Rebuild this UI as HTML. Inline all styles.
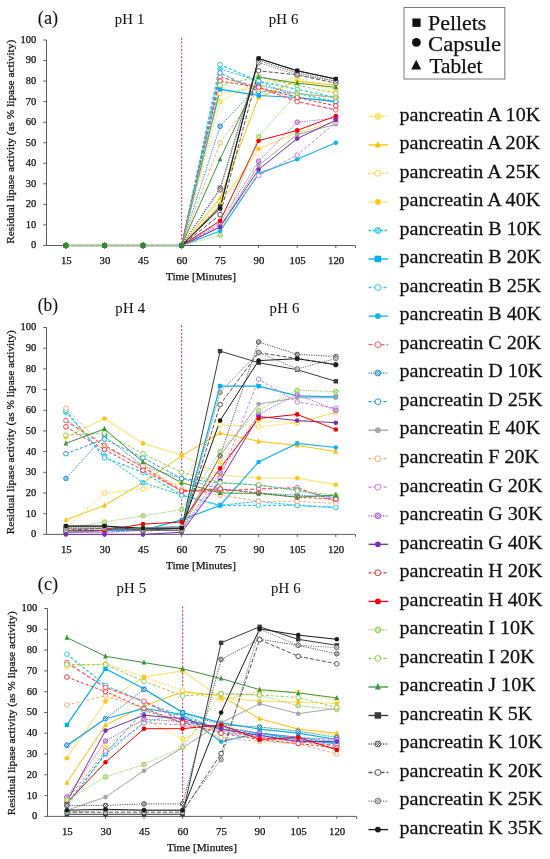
<!DOCTYPE html><html><head><meta charset="utf-8"><style>html,body{margin:0;padding:0;background:#fff;overflow:hidden}svg{display:block;will-change:transform}text{font-family:"Liberation Serif",serif;fill:#111;stroke:#111;stroke-width:0.25px}</style></head><body>
<svg width="550" height="859" viewBox="0 0 550 859">
<defs>
<pattern id="h12C4F2" patternUnits="userSpaceOnUse" width="1.6" height="1.6" patternTransform="rotate(45)"><rect width="1.6" height="1.6" fill="#fff"/><rect width="0.8" height="1.6" fill="#12C4F2"/></pattern>
<pattern id="h1888D8" patternUnits="userSpaceOnUse" width="1.6" height="1.6" patternTransform="rotate(45)"><rect width="1.6" height="1.6" fill="#fff"/><rect width="0.8" height="1.6" fill="#1888D8"/></pattern>
<pattern id="h555555" patternUnits="userSpaceOnUse" width="1.6" height="1.6" patternTransform="rotate(45)"><rect width="1.6" height="1.6" fill="#fff"/><rect width="0.8" height="1.6" fill="#555555"/></pattern>
<pattern id="h777777" patternUnits="userSpaceOnUse" width="1.6" height="1.6" patternTransform="rotate(45)"><rect width="1.6" height="1.6" fill="#fff"/><rect width="0.8" height="1.6" fill="#777777"/></pattern>
<pattern id="h92D050" patternUnits="userSpaceOnUse" width="1.6" height="1.6" patternTransform="rotate(45)"><rect width="1.6" height="1.6" fill="#fff"/><rect width="0.8" height="1.6" fill="#92D050"/></pattern>
<pattern id="hA858D2" patternUnits="userSpaceOnUse" width="1.6" height="1.6" patternTransform="rotate(45)"><rect width="1.6" height="1.6" fill="#fff"/><rect width="0.8" height="1.6" fill="#A858D2"/></pattern>
<pattern id="hFFD91A" patternUnits="userSpaceOnUse" width="1.6" height="1.6" patternTransform="rotate(45)"><rect width="1.6" height="1.6" fill="#fff"/><rect width="0.8" height="1.6" fill="#FFD91A"/></pattern>
</defs>
<rect width="550" height="859" fill="#fff"/>
<text transform="translate(14.2 141.8) rotate(-90)" font-size="11" text-anchor="middle" textLength="204" lengthAdjust="spacingAndGlyphs">Residual lipase activity (as % lipase activity)</text>
<text x="37.8" y="23.5" font-size="19" textLength="20.3" lengthAdjust="spacingAndGlyphs" style="stroke-width:0.1px">(a)</text>
<text transform="translate(114.7 23.8) scale(1.07 1)" font-size="13.8" letter-spacing="0.2" style="stroke-width:0.05px">pH 1</text>
<text transform="translate(268.7 23.8) scale(1.07 1)" font-size="13.8" letter-spacing="0.2" style="stroke-width:0.05px">pH 6</text>
<g transform="translate(0.0 0)">
<path d="M46.5 40.0V245.5M43.3 245.5H355.5" stroke="#5e5e5e" stroke-width="1" fill="none"/>
<path d="M43.3 224.9H46.5M43.3 204.4H46.5M43.3 183.8H46.5M43.3 163.3H46.5M43.3 142.8H46.5M43.3 122.2H46.5M43.3 101.6H46.5M43.3 81.1H46.5M43.3 60.5H46.5M43.3 40.0H46.5M104.5 245.5v2.5M143.0 245.5v2.5M181.6 245.5v2.5M220.1 245.5v2.5M258.6 245.5v2.5M297.2 245.5v2.5M335.8 245.5v2.5M355.5 245.5v2.5" stroke="#5e5e5e" stroke-width="1" fill="none"/>
<text x="36.2" y="248.4" font-size="10.5" text-anchor="end">0</text>
<text x="36.2" y="227.8" font-size="10.5" text-anchor="end">10</text>
<text x="36.2" y="207.3" font-size="10.5" text-anchor="end">20</text>
<text x="36.2" y="186.8" font-size="10.5" text-anchor="end">30</text>
<text x="36.2" y="166.2" font-size="10.5" text-anchor="end">40</text>
<text x="36.2" y="145.7" font-size="10.5" text-anchor="end">50</text>
<text x="36.2" y="125.1" font-size="10.5" text-anchor="end">60</text>
<text x="36.2" y="104.5" font-size="10.5" text-anchor="end">70</text>
<text x="36.2" y="84.0" font-size="10.5" text-anchor="end">80</text>
<text x="36.2" y="63.4" font-size="10.5" text-anchor="end">90</text>
<text x="36.2" y="42.9" font-size="10.5" text-anchor="end">100</text>
<text x="66.3" y="264.1" font-size="10.8" text-anchor="middle">15</text>
<text x="104.9" y="264.1" font-size="10.8" text-anchor="middle">30</text>
<text x="143.4" y="264.1" font-size="10.8" text-anchor="middle">45</text>
<text x="182.0" y="264.1" font-size="10.8" text-anchor="middle">60</text>
<text x="220.5" y="264.1" font-size="10.8" text-anchor="middle">75</text>
<text x="259.0" y="264.1" font-size="10.8" text-anchor="middle">90</text>
<text x="297.6" y="264.1" font-size="10.8" text-anchor="middle">105</text>
<text x="336.1" y="264.1" font-size="10.8" text-anchor="middle">120</text>
<text x="201" y="279.8" font-size="11" text-anchor="middle" textLength="69.8" lengthAdjust="spacingAndGlyphs">Time [Minutes]</text>
<path d="M181.6 37.8V245.5" stroke="#E8365E" stroke-width="1.1" stroke-dasharray="2 1.7" fill="none"/>
<polyline points="65.9,245.5 104.5,245.5 143.0,245.5 181.6,245.5 220.1,101.6 258.6,81.1 297.2,81.1 335.8,89.3" fill="none" stroke="#FFD91A" stroke-width="1.0" stroke-dasharray="1.2 1.2"/>
<polyline points="65.9,245.5 104.5,245.5 143.0,245.5 181.6,245.5 220.1,198.2 258.6,97.5 297.2,81.1 335.8,85.2" fill="none" stroke="#FFC000" stroke-width="1.0"/>
<polyline points="65.9,245.5 104.5,245.5 143.0,245.5 181.6,245.5 220.1,93.4 258.6,87.3 297.2,77.0 335.8,93.4" fill="none" stroke="#FFD43B" stroke-width="1.0" stroke-dasharray="2 1.5"/>
<polyline points="65.9,245.5 104.5,245.5 143.0,245.5 181.6,245.5 220.1,204.4 258.6,148.9 297.2,132.5 335.8,122.2" fill="none" stroke="#FFE27A" stroke-width="1.2"/>
<polyline points="65.9,245.5 104.5,245.5 143.0,245.5 181.6,245.5 220.1,68.8 258.6,81.1 297.2,97.5 335.8,101.6" fill="none" stroke="#12C4F2" stroke-width="1.0" stroke-dasharray="2.5 1.5"/>
<polyline points="65.9,245.5 104.5,245.5 143.0,245.5 181.6,245.5 220.1,89.3 258.6,95.5 297.2,97.5 335.8,101.6" fill="none" stroke="#00B0F0" stroke-width="1.2"/>
<polyline points="65.9,245.5 104.5,245.5 143.0,245.5 181.6,245.5 220.1,64.7 258.6,81.1 297.2,89.3 335.8,97.5" fill="none" stroke="#2ECBF0" stroke-width="1.3" stroke-dasharray="3 2"/>
<polyline points="65.9,245.5 104.5,245.5 143.0,245.5 181.6,245.5 220.1,231.1 258.6,173.6 297.2,159.2 335.8,142.8" fill="none" stroke="#12B4F0" stroke-width="1.2"/>
<polyline points="65.9,245.5 104.5,245.5 143.0,245.5 181.6,245.5 220.1,77.0 258.6,87.3 297.2,101.6 335.8,109.9" fill="none" stroke="#FF5A66" stroke-width="1.3" stroke-dasharray="4 2"/>
<polyline points="65.9,245.5 104.5,245.5 143.0,245.5 181.6,245.5 220.1,126.3 258.6,85.2 297.2,93.4 335.8,97.5" fill="none" stroke="#1888D8" stroke-width="1.0" stroke-dasharray="1.2 1.2"/>
<polyline points="65.9,245.5 104.5,245.5 143.0,245.5 181.6,245.5 220.1,72.9 258.6,91.4 297.2,93.4 335.8,101.6" fill="none" stroke="#1E9EE0" stroke-width="1.0" stroke-dasharray="3 2"/>
<polyline points="65.9,245.5 104.5,245.5 143.0,245.5 181.6,245.5 220.1,227.0 258.6,165.4 297.2,134.5 335.8,124.3" fill="none" stroke="#A6A6A6" stroke-width="1.0"/>
<polyline points="65.9,245.5 104.5,245.5 143.0,245.5 181.6,245.5 220.1,142.8 258.6,89.3 297.2,93.4 335.8,97.5" fill="none" stroke="#F5AE72" stroke-width="1.0" stroke-dasharray="3 2"/>
<polyline points="65.9,245.5 104.5,245.5 143.0,245.5 181.6,245.5 220.1,224.9 258.6,175.6 297.2,155.1 335.8,122.2" fill="none" stroke="#C583E6" stroke-width="1.0" stroke-dasharray="3 2"/>
<polyline points="65.9,245.5 104.5,245.5 143.0,245.5 181.6,245.5 220.1,222.9 258.6,161.2 297.2,122.2 335.8,118.1" fill="none" stroke="#A858D2" stroke-width="1.0" stroke-dasharray="1.2 1.2"/>
<polyline points="65.9,245.5 104.5,245.5 143.0,245.5 181.6,245.5 220.1,227.0 258.6,169.5 297.2,138.6 335.8,120.1" fill="none" stroke="#7A2FB0" stroke-width="1.0"/>
<polyline points="65.9,245.5 104.5,245.5 143.0,245.5 181.6,245.5 220.1,81.1 258.6,87.3 297.2,97.5 335.8,105.8" fill="none" stroke="#FF3030" stroke-width="1.0" stroke-dasharray="3 2"/>
<polyline points="65.9,245.5 104.5,245.5 143.0,245.5 181.6,245.5 220.1,220.8 258.6,140.7 297.2,130.4 335.8,116.0" fill="none" stroke="#F00000" stroke-width="1.0"/>
<polyline points="65.9,245.5 104.5,245.5 143.0,245.5 181.6,245.5 220.1,235.2 258.6,136.6 297.2,93.4 335.8,97.5" fill="none" stroke="#92D050" stroke-width="1.0" stroke-dasharray="1.2 1.2"/>
<polyline points="65.9,245.5 104.5,245.5 143.0,245.5 181.6,245.5 220.1,85.2 258.6,77.0 297.2,85.2 335.8,93.4" fill="none" stroke="#92D050" stroke-width="1.0" stroke-dasharray="3 2"/>
<polyline points="65.9,245.5 104.5,245.5 143.0,245.5 181.6,245.5 220.1,159.2 258.6,77.0 297.2,83.2 335.8,87.3" fill="none" stroke="#38963A" stroke-width="1.0"/>
<polyline points="65.9,245.5 104.5,245.5 143.0,245.5 181.6,245.5 220.1,206.5 258.6,58.5 297.2,70.8 335.8,79.0" fill="none" stroke="#3A3A3A" stroke-width="1.0"/>
<polyline points="65.9,245.5 104.5,245.5 143.0,245.5 181.6,245.5 220.1,188.0 258.6,60.5 297.2,72.9 335.8,81.1" fill="none" stroke="#555555" stroke-width="1.0" stroke-dasharray="1.2 1.2"/>
<polyline points="65.9,245.5 104.5,245.5 143.0,245.5 181.6,245.5 220.1,214.7 258.6,70.8 297.2,74.9 335.8,83.2" fill="none" stroke="#555555" stroke-width="1.0" stroke-dasharray="4 2"/>
<polyline points="65.9,245.5 104.5,245.5 143.0,245.5 181.6,245.5 220.1,190.0 258.6,62.6 297.2,74.9 335.8,81.1" fill="none" stroke="#777777" stroke-width="1.0" stroke-dasharray="1.2 1.2"/>
<polyline points="65.9,245.5 104.5,245.5 143.0,245.5 181.6,245.5 220.1,208.5 258.6,58.5 297.2,70.8 335.8,79.0" fill="none" stroke="#1A1A1A" stroke-width="1.0"/>
<circle cx="65.9" cy="245.5" r="2.3" fill="url(#hFFD91A)" stroke="#FFD91A" stroke-width="0.9"/><circle cx="104.5" cy="245.5" r="2.3" fill="url(#hFFD91A)" stroke="#FFD91A" stroke-width="0.9"/><circle cx="143.0" cy="245.5" r="2.3" fill="url(#hFFD91A)" stroke="#FFD91A" stroke-width="0.9"/><circle cx="181.6" cy="245.5" r="2.3" fill="url(#hFFD91A)" stroke="#FFD91A" stroke-width="0.9"/><circle cx="220.1" cy="101.6" r="2.3" fill="url(#hFFD91A)" stroke="#FFD91A" stroke-width="0.9"/><circle cx="258.6" cy="81.1" r="2.3" fill="url(#hFFD91A)" stroke="#FFD91A" stroke-width="0.9"/><circle cx="297.2" cy="81.1" r="2.3" fill="url(#hFFD91A)" stroke="#FFD91A" stroke-width="0.9"/><circle cx="335.8" cy="89.3" r="2.3" fill="url(#hFFD91A)" stroke="#FFD91A" stroke-width="0.9"/>
<path d="M65.9 242.5L68.2 247.6L63.6 247.6Z" fill="#FFC000"/><path d="M104.5 242.5L106.8 247.6L102.1 247.6Z" fill="#FFC000"/><path d="M143.0 242.5L145.3 247.6L140.7 247.6Z" fill="#FFC000"/><path d="M181.6 242.5L183.9 247.6L179.2 247.6Z" fill="#FFC000"/><path d="M220.1 195.2L222.4 200.3L217.8 200.3Z" fill="#FFC000"/><path d="M258.6 94.5L261.0 99.6L256.3 99.6Z" fill="#FFC000"/><path d="M297.2 78.1L299.5 83.2L294.9 83.2Z" fill="#FFC000"/><path d="M335.8 82.2L338.1 87.3L333.4 87.3Z" fill="#FFC000"/>
<circle cx="65.9" cy="245.5" r="2.3" fill="#fff" stroke="#FFD43B" stroke-width="1"/><circle cx="104.5" cy="245.5" r="2.3" fill="#fff" stroke="#FFD43B" stroke-width="1"/><circle cx="143.0" cy="245.5" r="2.3" fill="#fff" stroke="#FFD43B" stroke-width="1"/><circle cx="181.6" cy="245.5" r="2.3" fill="#fff" stroke="#FFD43B" stroke-width="1"/><circle cx="220.1" cy="93.4" r="2.3" fill="#fff" stroke="#FFD43B" stroke-width="1"/><circle cx="258.6" cy="87.3" r="2.3" fill="#fff" stroke="#FFD43B" stroke-width="1"/><circle cx="297.2" cy="77.0" r="2.3" fill="#fff" stroke="#FFD43B" stroke-width="1"/><circle cx="335.8" cy="93.4" r="2.3" fill="#fff" stroke="#FFD43B" stroke-width="1"/>
<circle cx="65.9" cy="245.5" r="2.3" fill="#FFC61A"/><circle cx="104.5" cy="245.5" r="2.3" fill="#FFC61A"/><circle cx="143.0" cy="245.5" r="2.3" fill="#FFC61A"/><circle cx="181.6" cy="245.5" r="2.3" fill="#FFC61A"/><circle cx="220.1" cy="204.4" r="2.3" fill="#FFC61A"/><circle cx="258.6" cy="148.9" r="2.3" fill="#FFC61A"/><circle cx="297.2" cy="132.5" r="2.3" fill="#FFC61A"/><circle cx="335.8" cy="122.2" r="2.3" fill="#FFC61A"/>
<circle cx="65.9" cy="245.5" r="2.3" fill="url(#h12C4F2)" stroke="#12C4F2" stroke-width="0.9"/><circle cx="104.5" cy="245.5" r="2.3" fill="url(#h12C4F2)" stroke="#12C4F2" stroke-width="0.9"/><circle cx="143.0" cy="245.5" r="2.3" fill="url(#h12C4F2)" stroke="#12C4F2" stroke-width="0.9"/><circle cx="181.6" cy="245.5" r="2.3" fill="url(#h12C4F2)" stroke="#12C4F2" stroke-width="0.9"/><circle cx="220.1" cy="68.8" r="2.3" fill="url(#h12C4F2)" stroke="#12C4F2" stroke-width="0.9"/><circle cx="258.6" cy="81.1" r="2.3" fill="url(#h12C4F2)" stroke="#12C4F2" stroke-width="0.9"/><circle cx="297.2" cy="97.5" r="2.3" fill="url(#h12C4F2)" stroke="#12C4F2" stroke-width="0.9"/><circle cx="335.8" cy="101.6" r="2.3" fill="url(#h12C4F2)" stroke="#12C4F2" stroke-width="0.9"/>
<rect x="63.7" y="243.3" width="4.4" height="4.4" fill="#00B0F0"/><rect x="102.3" y="243.3" width="4.4" height="4.4" fill="#00B0F0"/><rect x="140.8" y="243.3" width="4.4" height="4.4" fill="#00B0F0"/><rect x="179.4" y="243.3" width="4.4" height="4.4" fill="#00B0F0"/><rect x="217.9" y="87.1" width="4.4" height="4.4" fill="#00B0F0"/><rect x="256.5" y="93.3" width="4.4" height="4.4" fill="#00B0F0"/><rect x="295.0" y="95.4" width="4.4" height="4.4" fill="#00B0F0"/><rect x="333.6" y="99.5" width="4.4" height="4.4" fill="#00B0F0"/>
<circle cx="65.9" cy="245.5" r="2.3" fill="#fff" stroke="#2ECBF0" stroke-width="1"/><circle cx="104.5" cy="245.5" r="2.3" fill="#fff" stroke="#2ECBF0" stroke-width="1"/><circle cx="143.0" cy="245.5" r="2.3" fill="#fff" stroke="#2ECBF0" stroke-width="1"/><circle cx="181.6" cy="245.5" r="2.3" fill="#fff" stroke="#2ECBF0" stroke-width="1"/><circle cx="220.1" cy="64.7" r="2.3" fill="#fff" stroke="#2ECBF0" stroke-width="1"/><circle cx="258.6" cy="81.1" r="2.3" fill="#fff" stroke="#2ECBF0" stroke-width="1"/><circle cx="297.2" cy="89.3" r="2.3" fill="#fff" stroke="#2ECBF0" stroke-width="1"/><circle cx="335.8" cy="97.5" r="2.3" fill="#fff" stroke="#2ECBF0" stroke-width="1"/>
<circle cx="65.9" cy="245.5" r="2.3" fill="#12B4F0"/><circle cx="104.5" cy="245.5" r="2.3" fill="#12B4F0"/><circle cx="143.0" cy="245.5" r="2.3" fill="#12B4F0"/><circle cx="181.6" cy="245.5" r="2.3" fill="#12B4F0"/><circle cx="220.1" cy="231.1" r="2.3" fill="#12B4F0"/><circle cx="258.6" cy="173.6" r="2.3" fill="#12B4F0"/><circle cx="297.2" cy="159.2" r="2.3" fill="#12B4F0"/><circle cx="335.8" cy="142.8" r="2.3" fill="#12B4F0"/>
<circle cx="65.9" cy="245.5" r="2.3" fill="#fff" stroke="#FF5A66" stroke-width="1"/><circle cx="104.5" cy="245.5" r="2.3" fill="#fff" stroke="#FF5A66" stroke-width="1"/><circle cx="143.0" cy="245.5" r="2.3" fill="#fff" stroke="#FF5A66" stroke-width="1"/><circle cx="181.6" cy="245.5" r="2.3" fill="#fff" stroke="#FF5A66" stroke-width="1"/><circle cx="220.1" cy="77.0" r="2.3" fill="#fff" stroke="#FF5A66" stroke-width="1"/><circle cx="258.6" cy="87.3" r="2.3" fill="#fff" stroke="#FF5A66" stroke-width="1"/><circle cx="297.2" cy="101.6" r="2.3" fill="#fff" stroke="#FF5A66" stroke-width="1"/><circle cx="335.8" cy="109.9" r="2.3" fill="#fff" stroke="#FF5A66" stroke-width="1"/>
<circle cx="65.9" cy="245.5" r="2.3" fill="url(#h1888D8)" stroke="#1888D8" stroke-width="0.9"/><circle cx="104.5" cy="245.5" r="2.3" fill="url(#h1888D8)" stroke="#1888D8" stroke-width="0.9"/><circle cx="143.0" cy="245.5" r="2.3" fill="url(#h1888D8)" stroke="#1888D8" stroke-width="0.9"/><circle cx="181.6" cy="245.5" r="2.3" fill="url(#h1888D8)" stroke="#1888D8" stroke-width="0.9"/><circle cx="220.1" cy="126.3" r="2.3" fill="url(#h1888D8)" stroke="#1888D8" stroke-width="0.9"/><circle cx="258.6" cy="85.2" r="2.3" fill="url(#h1888D8)" stroke="#1888D8" stroke-width="0.9"/><circle cx="297.2" cy="93.4" r="2.3" fill="url(#h1888D8)" stroke="#1888D8" stroke-width="0.9"/><circle cx="335.8" cy="97.5" r="2.3" fill="url(#h1888D8)" stroke="#1888D8" stroke-width="0.9"/>
<circle cx="65.9" cy="245.5" r="2.3" fill="#fff" stroke="#1E9EE0" stroke-width="1"/><circle cx="104.5" cy="245.5" r="2.3" fill="#fff" stroke="#1E9EE0" stroke-width="1"/><circle cx="143.0" cy="245.5" r="2.3" fill="#fff" stroke="#1E9EE0" stroke-width="1"/><circle cx="181.6" cy="245.5" r="2.3" fill="#fff" stroke="#1E9EE0" stroke-width="1"/><circle cx="220.1" cy="72.9" r="2.3" fill="#fff" stroke="#1E9EE0" stroke-width="1"/><circle cx="258.6" cy="91.4" r="2.3" fill="#fff" stroke="#1E9EE0" stroke-width="1"/><circle cx="297.2" cy="93.4" r="2.3" fill="#fff" stroke="#1E9EE0" stroke-width="1"/><circle cx="335.8" cy="101.6" r="2.3" fill="#fff" stroke="#1E9EE0" stroke-width="1"/>
<circle cx="65.9" cy="245.5" r="2.3" fill="#A6A6A6"/><circle cx="104.5" cy="245.5" r="2.3" fill="#A6A6A6"/><circle cx="143.0" cy="245.5" r="2.3" fill="#A6A6A6"/><circle cx="181.6" cy="245.5" r="2.3" fill="#A6A6A6"/><circle cx="220.1" cy="227.0" r="2.3" fill="#A6A6A6"/><circle cx="258.6" cy="165.4" r="2.3" fill="#A6A6A6"/><circle cx="297.2" cy="134.5" r="2.3" fill="#A6A6A6"/><circle cx="335.8" cy="124.3" r="2.3" fill="#A6A6A6"/>
<circle cx="65.9" cy="245.5" r="2.3" fill="#fff" stroke="#F5AE72" stroke-width="1"/><circle cx="104.5" cy="245.5" r="2.3" fill="#fff" stroke="#F5AE72" stroke-width="1"/><circle cx="143.0" cy="245.5" r="2.3" fill="#fff" stroke="#F5AE72" stroke-width="1"/><circle cx="181.6" cy="245.5" r="2.3" fill="#fff" stroke="#F5AE72" stroke-width="1"/><circle cx="220.1" cy="142.8" r="2.3" fill="#fff" stroke="#F5AE72" stroke-width="1"/><circle cx="258.6" cy="89.3" r="2.3" fill="#fff" stroke="#F5AE72" stroke-width="1"/><circle cx="297.2" cy="93.4" r="2.3" fill="#fff" stroke="#F5AE72" stroke-width="1"/><circle cx="335.8" cy="97.5" r="2.3" fill="#fff" stroke="#F5AE72" stroke-width="1"/>
<circle cx="65.9" cy="245.5" r="2.3" fill="#fff" stroke="#C583E6" stroke-width="1"/><circle cx="104.5" cy="245.5" r="2.3" fill="#fff" stroke="#C583E6" stroke-width="1"/><circle cx="143.0" cy="245.5" r="2.3" fill="#fff" stroke="#C583E6" stroke-width="1"/><circle cx="181.6" cy="245.5" r="2.3" fill="#fff" stroke="#C583E6" stroke-width="1"/><circle cx="220.1" cy="224.9" r="2.3" fill="#fff" stroke="#C583E6" stroke-width="1"/><circle cx="258.6" cy="175.6" r="2.3" fill="#fff" stroke="#C583E6" stroke-width="1"/><circle cx="297.2" cy="155.1" r="2.3" fill="#fff" stroke="#C583E6" stroke-width="1"/><circle cx="335.8" cy="122.2" r="2.3" fill="#fff" stroke="#C583E6" stroke-width="1"/>
<circle cx="65.9" cy="245.5" r="2.3" fill="url(#hA858D2)" stroke="#A858D2" stroke-width="0.9"/><circle cx="104.5" cy="245.5" r="2.3" fill="url(#hA858D2)" stroke="#A858D2" stroke-width="0.9"/><circle cx="143.0" cy="245.5" r="2.3" fill="url(#hA858D2)" stroke="#A858D2" stroke-width="0.9"/><circle cx="181.6" cy="245.5" r="2.3" fill="url(#hA858D2)" stroke="#A858D2" stroke-width="0.9"/><circle cx="220.1" cy="222.9" r="2.3" fill="url(#hA858D2)" stroke="#A858D2" stroke-width="0.9"/><circle cx="258.6" cy="161.2" r="2.3" fill="url(#hA858D2)" stroke="#A858D2" stroke-width="0.9"/><circle cx="297.2" cy="122.2" r="2.3" fill="url(#hA858D2)" stroke="#A858D2" stroke-width="0.9"/><circle cx="335.8" cy="118.1" r="2.3" fill="url(#hA858D2)" stroke="#A858D2" stroke-width="0.9"/>
<circle cx="65.9" cy="245.5" r="2.3" fill="#7A2FB0"/><circle cx="104.5" cy="245.5" r="2.3" fill="#7A2FB0"/><circle cx="143.0" cy="245.5" r="2.3" fill="#7A2FB0"/><circle cx="181.6" cy="245.5" r="2.3" fill="#7A2FB0"/><circle cx="220.1" cy="227.0" r="2.3" fill="#7A2FB0"/><circle cx="258.6" cy="169.5" r="2.3" fill="#7A2FB0"/><circle cx="297.2" cy="138.6" r="2.3" fill="#7A2FB0"/><circle cx="335.8" cy="120.1" r="2.3" fill="#7A2FB0"/>
<circle cx="65.9" cy="245.5" r="2.3" fill="#fff" stroke="#FF3030" stroke-width="1"/><circle cx="104.5" cy="245.5" r="2.3" fill="#fff" stroke="#FF3030" stroke-width="1"/><circle cx="143.0" cy="245.5" r="2.3" fill="#fff" stroke="#FF3030" stroke-width="1"/><circle cx="181.6" cy="245.5" r="2.3" fill="#fff" stroke="#FF3030" stroke-width="1"/><circle cx="220.1" cy="81.1" r="2.3" fill="#fff" stroke="#FF3030" stroke-width="1"/><circle cx="258.6" cy="87.3" r="2.3" fill="#fff" stroke="#FF3030" stroke-width="1"/><circle cx="297.2" cy="97.5" r="2.3" fill="#fff" stroke="#FF3030" stroke-width="1"/><circle cx="335.8" cy="105.8" r="2.3" fill="#fff" stroke="#FF3030" stroke-width="1"/>
<circle cx="65.9" cy="245.5" r="2.3" fill="#F00000"/><circle cx="104.5" cy="245.5" r="2.3" fill="#F00000"/><circle cx="143.0" cy="245.5" r="2.3" fill="#F00000"/><circle cx="181.6" cy="245.5" r="2.3" fill="#F00000"/><circle cx="220.1" cy="220.8" r="2.3" fill="#F00000"/><circle cx="258.6" cy="140.7" r="2.3" fill="#F00000"/><circle cx="297.2" cy="130.4" r="2.3" fill="#F00000"/><circle cx="335.8" cy="116.0" r="2.3" fill="#F00000"/>
<circle cx="65.9" cy="245.5" r="2.3" fill="url(#h92D050)" stroke="#92D050" stroke-width="0.9"/><circle cx="104.5" cy="245.5" r="2.3" fill="url(#h92D050)" stroke="#92D050" stroke-width="0.9"/><circle cx="143.0" cy="245.5" r="2.3" fill="url(#h92D050)" stroke="#92D050" stroke-width="0.9"/><circle cx="181.6" cy="245.5" r="2.3" fill="url(#h92D050)" stroke="#92D050" stroke-width="0.9"/><circle cx="220.1" cy="235.2" r="2.3" fill="url(#h92D050)" stroke="#92D050" stroke-width="0.9"/><circle cx="258.6" cy="136.6" r="2.3" fill="url(#h92D050)" stroke="#92D050" stroke-width="0.9"/><circle cx="297.2" cy="93.4" r="2.3" fill="url(#h92D050)" stroke="#92D050" stroke-width="0.9"/><circle cx="335.8" cy="97.5" r="2.3" fill="url(#h92D050)" stroke="#92D050" stroke-width="0.9"/>
<circle cx="65.9" cy="245.5" r="2.3" fill="#fff" stroke="#92D050" stroke-width="1"/><circle cx="104.5" cy="245.5" r="2.3" fill="#fff" stroke="#92D050" stroke-width="1"/><circle cx="143.0" cy="245.5" r="2.3" fill="#fff" stroke="#92D050" stroke-width="1"/><circle cx="181.6" cy="245.5" r="2.3" fill="#fff" stroke="#92D050" stroke-width="1"/><circle cx="220.1" cy="85.2" r="2.3" fill="#fff" stroke="#92D050" stroke-width="1"/><circle cx="258.6" cy="77.0" r="2.3" fill="#fff" stroke="#92D050" stroke-width="1"/><circle cx="297.2" cy="85.2" r="2.3" fill="#fff" stroke="#92D050" stroke-width="1"/><circle cx="335.8" cy="93.4" r="2.3" fill="#fff" stroke="#92D050" stroke-width="1"/>
<path d="M65.9 242.5L68.2 247.6L63.6 247.6Z" fill="#38963A"/><path d="M104.5 242.5L106.8 247.6L102.1 247.6Z" fill="#38963A"/><path d="M143.0 242.5L145.3 247.6L140.7 247.6Z" fill="#38963A"/><path d="M181.6 242.5L183.9 247.6L179.2 247.6Z" fill="#38963A"/><path d="M220.1 156.2L222.4 161.3L217.8 161.3Z" fill="#38963A"/><path d="M258.6 74.0L261.0 79.1L256.3 79.1Z" fill="#38963A"/><path d="M297.2 80.1L299.5 85.2L294.9 85.2Z" fill="#38963A"/><path d="M335.8 84.2L338.1 89.3L333.4 89.3Z" fill="#38963A"/>
<rect x="63.7" y="243.3" width="4.4" height="4.4" fill="#3A3A3A"/><rect x="102.3" y="243.3" width="4.4" height="4.4" fill="#3A3A3A"/><rect x="140.8" y="243.3" width="4.4" height="4.4" fill="#3A3A3A"/><rect x="179.4" y="243.3" width="4.4" height="4.4" fill="#3A3A3A"/><rect x="217.9" y="204.3" width="4.4" height="4.4" fill="#3A3A3A"/><rect x="256.5" y="56.3" width="4.4" height="4.4" fill="#3A3A3A"/><rect x="295.0" y="68.6" width="4.4" height="4.4" fill="#3A3A3A"/><rect x="333.6" y="76.9" width="4.4" height="4.4" fill="#3A3A3A"/>
<circle cx="65.9" cy="245.5" r="2.3" fill="url(#h555555)" stroke="#555555" stroke-width="0.9"/><circle cx="104.5" cy="245.5" r="2.3" fill="url(#h555555)" stroke="#555555" stroke-width="0.9"/><circle cx="143.0" cy="245.5" r="2.3" fill="url(#h555555)" stroke="#555555" stroke-width="0.9"/><circle cx="181.6" cy="245.5" r="2.3" fill="url(#h555555)" stroke="#555555" stroke-width="0.9"/><circle cx="220.1" cy="188.0" r="2.3" fill="url(#h555555)" stroke="#555555" stroke-width="0.9"/><circle cx="258.6" cy="60.5" r="2.3" fill="url(#h555555)" stroke="#555555" stroke-width="0.9"/><circle cx="297.2" cy="72.9" r="2.3" fill="url(#h555555)" stroke="#555555" stroke-width="0.9"/><circle cx="335.8" cy="81.1" r="2.3" fill="url(#h555555)" stroke="#555555" stroke-width="0.9"/>
<circle cx="65.9" cy="245.5" r="2.3" fill="#fff" stroke="#555555" stroke-width="1"/><circle cx="104.5" cy="245.5" r="2.3" fill="#fff" stroke="#555555" stroke-width="1"/><circle cx="143.0" cy="245.5" r="2.3" fill="#fff" stroke="#555555" stroke-width="1"/><circle cx="181.6" cy="245.5" r="2.3" fill="#fff" stroke="#555555" stroke-width="1"/><circle cx="220.1" cy="214.7" r="2.3" fill="#fff" stroke="#555555" stroke-width="1"/><circle cx="258.6" cy="70.8" r="2.3" fill="#fff" stroke="#555555" stroke-width="1"/><circle cx="297.2" cy="74.9" r="2.3" fill="#fff" stroke="#555555" stroke-width="1"/><circle cx="335.8" cy="83.2" r="2.3" fill="#fff" stroke="#555555" stroke-width="1"/>
<circle cx="65.9" cy="245.5" r="2.3" fill="url(#h777777)" stroke="#777777" stroke-width="0.9"/><circle cx="104.5" cy="245.5" r="2.3" fill="url(#h777777)" stroke="#777777" stroke-width="0.9"/><circle cx="143.0" cy="245.5" r="2.3" fill="url(#h777777)" stroke="#777777" stroke-width="0.9"/><circle cx="181.6" cy="245.5" r="2.3" fill="url(#h777777)" stroke="#777777" stroke-width="0.9"/><circle cx="220.1" cy="190.0" r="2.3" fill="url(#h777777)" stroke="#777777" stroke-width="0.9"/><circle cx="258.6" cy="62.6" r="2.3" fill="url(#h777777)" stroke="#777777" stroke-width="0.9"/><circle cx="297.2" cy="74.9" r="2.3" fill="url(#h777777)" stroke="#777777" stroke-width="0.9"/><circle cx="335.8" cy="81.1" r="2.3" fill="url(#h777777)" stroke="#777777" stroke-width="0.9"/>
<circle cx="65.9" cy="245.5" r="2.3" fill="#1A1A1A"/><circle cx="104.5" cy="245.5" r="2.3" fill="#1A1A1A"/><circle cx="143.0" cy="245.5" r="2.3" fill="#1A1A1A"/><circle cx="181.6" cy="245.5" r="2.3" fill="#1A1A1A"/><circle cx="220.1" cy="208.5" r="2.3" fill="#1A1A1A"/><circle cx="258.6" cy="58.5" r="2.3" fill="#1A1A1A"/><circle cx="297.2" cy="70.8" r="2.3" fill="#1A1A1A"/><circle cx="335.8" cy="79.0" r="2.3" fill="#1A1A1A"/>
</g>
<text transform="translate(14.4 432.2) rotate(-90)" font-size="11" text-anchor="middle" textLength="204" lengthAdjust="spacingAndGlyphs">Residual lipase activity (as % lipase activity)</text>
<text x="37.8" y="311.2" font-size="19" textLength="20.3" lengthAdjust="spacingAndGlyphs" style="stroke-width:0.1px">(b)</text>
<text transform="translate(115.3 312.7) scale(1.07 1)" font-size="13.8" letter-spacing="0.2" style="stroke-width:0.05px">pH 4</text>
<text transform="translate(269.6 312.7) scale(1.07 1)" font-size="13.8" letter-spacing="0.2" style="stroke-width:0.05px">pH 6</text>
<g transform="translate(0.0 0)">
<path d="M46.5 327.5V534.4M43.3 534.4H355.5" stroke="#5e5e5e" stroke-width="1" fill="none"/>
<path d="M43.3 513.7H46.5M43.3 493.0H46.5M43.3 472.3H46.5M43.3 451.6H46.5M43.3 430.9H46.5M43.3 410.3H46.5M43.3 389.6H46.5M43.3 368.9H46.5M43.3 348.2H46.5M43.3 327.5H46.5M104.5 534.4v2.5M143.0 534.4v2.5M181.6 534.4v2.5M220.1 534.4v2.5M258.6 534.4v2.5M297.2 534.4v2.5M335.8 534.4v2.5M355.5 534.4v2.5" stroke="#5e5e5e" stroke-width="1" fill="none"/>
<text x="36.2" y="537.3" font-size="10.5" text-anchor="end">0</text>
<text x="36.2" y="516.6" font-size="10.5" text-anchor="end">10</text>
<text x="36.2" y="495.9" font-size="10.5" text-anchor="end">20</text>
<text x="36.2" y="475.2" font-size="10.5" text-anchor="end">30</text>
<text x="36.2" y="454.5" font-size="10.5" text-anchor="end">40</text>
<text x="36.2" y="433.8" font-size="10.5" text-anchor="end">50</text>
<text x="36.2" y="413.2" font-size="10.5" text-anchor="end">60</text>
<text x="36.2" y="392.5" font-size="10.5" text-anchor="end">70</text>
<text x="36.2" y="371.8" font-size="10.5" text-anchor="end">80</text>
<text x="36.2" y="351.1" font-size="10.5" text-anchor="end">90</text>
<text x="36.2" y="330.4" font-size="10.5" text-anchor="end">100</text>
<text x="66.3" y="553.0" font-size="10.8" text-anchor="middle">15</text>
<text x="104.9" y="553.0" font-size="10.8" text-anchor="middle">30</text>
<text x="143.4" y="553.0" font-size="10.8" text-anchor="middle">45</text>
<text x="182.0" y="553.0" font-size="10.8" text-anchor="middle">60</text>
<text x="220.5" y="553.0" font-size="10.8" text-anchor="middle">75</text>
<text x="259.0" y="553.0" font-size="10.8" text-anchor="middle">90</text>
<text x="297.6" y="553.0" font-size="10.8" text-anchor="middle">105</text>
<text x="336.1" y="553.0" font-size="10.8" text-anchor="middle">120</text>
<text x="201" y="568.7" font-size="11" text-anchor="middle" textLength="69.8" lengthAdjust="spacingAndGlyphs">Time [Minutes]</text>
<path d="M181.6 325.3V534.4" stroke="#E8365E" stroke-width="1.1" stroke-dasharray="2 1.7" fill="none"/>
<polyline points="65.9,530.3 104.5,530.3 143.0,528.2 181.6,528.2 220.1,462.0 258.6,420.6 297.2,422.7 335.8,412.3" fill="none" stroke="#FFD91A" stroke-width="1.0" stroke-dasharray="1.2 1.2"/>
<polyline points="65.9,519.9 104.5,505.4 143.0,482.7 181.6,455.8 220.1,433.0 258.6,441.3 297.2,445.4 335.8,451.6" fill="none" stroke="#FFC000" stroke-width="1.0"/>
<polyline points="65.9,528.2 104.5,493.0 143.0,488.9 181.6,482.7 220.1,424.7 258.6,426.8 297.2,422.7 335.8,412.3" fill="none" stroke="#FFD43B" stroke-width="1.0" stroke-dasharray="2 1.5"/>
<polyline points="65.9,437.2 104.5,418.5 143.0,443.4 181.6,455.0 220.1,475.0 258.6,478.1 297.2,478.1 335.8,484.7" fill="none" stroke="#FFE27A" stroke-width="1.2"/>
<polyline points="65.9,412.3 104.5,455.8 143.0,482.7 181.6,495.1 220.1,505.4 258.6,501.3 297.2,505.4 335.8,507.5" fill="none" stroke="#12C4F2" stroke-width="1.0" stroke-dasharray="2.5 1.5"/>
<polyline points="65.9,532.3 104.5,530.3 143.0,528.2 181.6,528.2 220.1,386.1 258.6,386.1 297.2,395.8 335.8,396.8" fill="none" stroke="#00B0F0" stroke-width="1.2"/>
<polyline points="65.9,410.3 104.5,457.8 143.0,472.3 181.6,495.1 220.1,505.4 258.6,505.4 297.2,505.4 335.8,507.5" fill="none" stroke="#2ECBF0" stroke-width="1.3" stroke-dasharray="3 2"/>
<polyline points="65.9,532.3 104.5,530.3 143.0,530.3 181.6,519.9 220.1,505.4 258.6,462.0 297.2,443.4 335.8,447.5" fill="none" stroke="#12B4F0" stroke-width="1.2"/>
<polyline points="65.9,420.6 104.5,445.4 143.0,467.2 181.6,491.0 220.1,491.0 258.6,488.9 297.2,487.8 335.8,501.3" fill="none" stroke="#FF5A66" stroke-width="1.3" stroke-dasharray="4 2"/>
<polyline points="65.9,478.5 104.5,435.9 143.0,466.1 181.6,478.5 220.1,488.9 258.6,493.0 297.2,495.1 335.8,497.2" fill="none" stroke="#1888D8" stroke-width="1.0" stroke-dasharray="1.2 1.2"/>
<polyline points="65.9,453.7 104.5,439.2 143.0,457.8 181.6,478.5 220.1,482.7 258.6,485.2 297.2,489.9 335.8,498.4" fill="none" stroke="#1E9EE0" stroke-width="1.0" stroke-dasharray="3 2"/>
<polyline points="65.9,528.2 104.5,528.2 143.0,528.2 181.6,526.1 220.1,455.8 258.6,404.1 297.2,397.8 335.8,397.8" fill="none" stroke="#A6A6A6" stroke-width="1.0"/>
<polyline points="65.9,408.2 104.5,447.5 143.0,466.1 181.6,488.9 220.1,495.1 258.6,501.3 297.2,501.3 335.8,503.4" fill="none" stroke="#F5AE72" stroke-width="1.0" stroke-dasharray="3 2"/>
<polyline points="65.9,532.3 104.5,532.3 143.0,530.3 181.6,530.3 220.1,478.5 258.6,379.2 297.2,402.0 335.8,408.2" fill="none" stroke="#C583E6" stroke-width="1.0" stroke-dasharray="3 2"/>
<polyline points="65.9,532.3 104.5,532.3 143.0,530.3 181.6,530.3 220.1,472.3 258.6,414.4 297.2,394.3 335.8,410.3" fill="none" stroke="#A858D2" stroke-width="1.0" stroke-dasharray="1.2 1.2"/>
<polyline points="65.9,534.4 104.5,534.4 143.0,534.4 181.6,532.3 220.1,480.6 258.6,416.5 297.2,420.6 335.8,422.7" fill="none" stroke="#7A2FB0" stroke-width="1.0"/>
<polyline points="65.9,426.8 104.5,449.6 143.0,470.3 181.6,491.0 220.1,488.9 258.6,493.0 297.2,497.2 335.8,499.2" fill="none" stroke="#FF3030" stroke-width="1.0" stroke-dasharray="3 2"/>
<polyline points="65.9,530.3 104.5,530.3 143.0,524.1 181.6,522.0 220.1,468.2 258.6,418.5 297.2,414.4 335.8,429.5" fill="none" stroke="#F00000" stroke-width="1.0"/>
<polyline points="65.9,528.2 104.5,522.0 143.0,515.8 181.6,509.6 220.1,451.6 258.6,410.3 297.2,390.2 335.8,391.6" fill="none" stroke="#92D050" stroke-width="1.0" stroke-dasharray="1.2 1.2"/>
<polyline points="65.9,435.1 104.5,433.0 143.0,453.7 181.6,472.3 220.1,482.7 258.6,484.7 297.2,491.0 335.8,495.1" fill="none" stroke="#92D050" stroke-width="1.0" stroke-dasharray="3 2"/>
<polyline points="65.9,443.4 104.5,428.9 143.0,462.0 181.6,482.7 220.1,493.0 258.6,493.4 297.2,497.2 335.8,495.1" fill="none" stroke="#38963A" stroke-width="1.0"/>
<polyline points="65.9,526.1 104.5,526.1 143.0,530.3 181.6,528.2 220.1,351.1 258.6,362.7 297.2,369.7 335.8,381.3" fill="none" stroke="#3A3A3A" stroke-width="1.0"/>
<polyline points="65.9,528.2 104.5,528.2 143.0,530.3 181.6,530.3 220.1,455.8 258.6,342.0 297.2,354.4 335.8,356.5" fill="none" stroke="#555555" stroke-width="1.0" stroke-dasharray="1.2 1.2"/>
<polyline points="65.9,530.3 104.5,528.2 143.0,530.3 181.6,530.3 220.1,404.7 258.6,352.7 297.2,358.5 335.8,364.7" fill="none" stroke="#555555" stroke-width="1.0" stroke-dasharray="4 2"/>
<polyline points="65.9,528.2 104.5,528.2 143.0,530.3 181.6,530.3 220.1,392.3 258.6,352.3 297.2,368.9 335.8,358.5" fill="none" stroke="#777777" stroke-width="1.0" stroke-dasharray="1.2 1.2"/>
<polyline points="65.9,526.1 104.5,526.1 143.0,528.2 181.6,528.2 220.1,420.6 258.6,360.6 297.2,358.7 335.8,364.7" fill="none" stroke="#1A1A1A" stroke-width="1.0"/>
<circle cx="65.9" cy="530.3" r="2.3" fill="url(#hFFD91A)" stroke="#FFD91A" stroke-width="0.9"/><circle cx="104.5" cy="530.3" r="2.3" fill="url(#hFFD91A)" stroke="#FFD91A" stroke-width="0.9"/><circle cx="143.0" cy="528.2" r="2.3" fill="url(#hFFD91A)" stroke="#FFD91A" stroke-width="0.9"/><circle cx="181.6" cy="528.2" r="2.3" fill="url(#hFFD91A)" stroke="#FFD91A" stroke-width="0.9"/><circle cx="220.1" cy="462.0" r="2.3" fill="url(#hFFD91A)" stroke="#FFD91A" stroke-width="0.9"/><circle cx="258.6" cy="420.6" r="2.3" fill="url(#hFFD91A)" stroke="#FFD91A" stroke-width="0.9"/><circle cx="297.2" cy="422.7" r="2.3" fill="url(#hFFD91A)" stroke="#FFD91A" stroke-width="0.9"/><circle cx="335.8" cy="412.3" r="2.3" fill="url(#hFFD91A)" stroke="#FFD91A" stroke-width="0.9"/>
<path d="M65.9 516.9L68.2 522.0L63.6 522.0Z" fill="#FFC000"/><path d="M104.5 502.4L106.8 507.5L102.1 507.5Z" fill="#FFC000"/><path d="M143.0 479.6L145.3 484.7L140.7 484.7Z" fill="#FFC000"/><path d="M181.6 452.7L183.9 457.8L179.2 457.8Z" fill="#FFC000"/><path d="M220.1 430.0L222.4 435.1L217.8 435.1Z" fill="#FFC000"/><path d="M258.6 438.3L261.0 443.4L256.3 443.4Z" fill="#FFC000"/><path d="M297.2 442.4L299.5 447.5L294.9 447.5Z" fill="#FFC000"/><path d="M335.8 448.6L338.1 453.7L333.4 453.7Z" fill="#FFC000"/>
<circle cx="65.9" cy="528.2" r="2.3" fill="#fff" stroke="#FFD43B" stroke-width="1"/><circle cx="104.5" cy="493.0" r="2.3" fill="#fff" stroke="#FFD43B" stroke-width="1"/><circle cx="143.0" cy="488.9" r="2.3" fill="#fff" stroke="#FFD43B" stroke-width="1"/><circle cx="181.6" cy="482.7" r="2.3" fill="#fff" stroke="#FFD43B" stroke-width="1"/><circle cx="220.1" cy="424.7" r="2.3" fill="#fff" stroke="#FFD43B" stroke-width="1"/><circle cx="258.6" cy="426.8" r="2.3" fill="#fff" stroke="#FFD43B" stroke-width="1"/><circle cx="297.2" cy="422.7" r="2.3" fill="#fff" stroke="#FFD43B" stroke-width="1"/><circle cx="335.8" cy="412.3" r="2.3" fill="#fff" stroke="#FFD43B" stroke-width="1"/>
<circle cx="65.9" cy="437.2" r="2.3" fill="#FFC61A"/><circle cx="104.5" cy="418.5" r="2.3" fill="#FFC61A"/><circle cx="143.0" cy="443.4" r="2.3" fill="#FFC61A"/><circle cx="181.6" cy="455.0" r="2.3" fill="#FFC61A"/><circle cx="220.1" cy="475.0" r="2.3" fill="#FFC61A"/><circle cx="258.6" cy="478.1" r="2.3" fill="#FFC61A"/><circle cx="297.2" cy="478.1" r="2.3" fill="#FFC61A"/><circle cx="335.8" cy="484.7" r="2.3" fill="#FFC61A"/>
<circle cx="65.9" cy="412.3" r="2.3" fill="url(#h12C4F2)" stroke="#12C4F2" stroke-width="0.9"/><circle cx="104.5" cy="455.8" r="2.3" fill="url(#h12C4F2)" stroke="#12C4F2" stroke-width="0.9"/><circle cx="143.0" cy="482.7" r="2.3" fill="url(#h12C4F2)" stroke="#12C4F2" stroke-width="0.9"/><circle cx="181.6" cy="495.1" r="2.3" fill="url(#h12C4F2)" stroke="#12C4F2" stroke-width="0.9"/><circle cx="220.1" cy="505.4" r="2.3" fill="url(#h12C4F2)" stroke="#12C4F2" stroke-width="0.9"/><circle cx="258.6" cy="501.3" r="2.3" fill="url(#h12C4F2)" stroke="#12C4F2" stroke-width="0.9"/><circle cx="297.2" cy="505.4" r="2.3" fill="url(#h12C4F2)" stroke="#12C4F2" stroke-width="0.9"/><circle cx="335.8" cy="507.5" r="2.3" fill="url(#h12C4F2)" stroke="#12C4F2" stroke-width="0.9"/>
<rect x="63.7" y="530.1" width="4.4" height="4.4" fill="#00B0F0"/><rect x="102.3" y="528.1" width="4.4" height="4.4" fill="#00B0F0"/><rect x="140.8" y="526.0" width="4.4" height="4.4" fill="#00B0F0"/><rect x="179.4" y="526.0" width="4.4" height="4.4" fill="#00B0F0"/><rect x="217.9" y="383.9" width="4.4" height="4.4" fill="#00B0F0"/><rect x="256.5" y="383.9" width="4.4" height="4.4" fill="#00B0F0"/><rect x="295.0" y="393.6" width="4.4" height="4.4" fill="#00B0F0"/><rect x="333.6" y="394.6" width="4.4" height="4.4" fill="#00B0F0"/>
<circle cx="65.9" cy="410.3" r="2.3" fill="#fff" stroke="#2ECBF0" stroke-width="1"/><circle cx="104.5" cy="457.8" r="2.3" fill="#fff" stroke="#2ECBF0" stroke-width="1"/><circle cx="143.0" cy="472.3" r="2.3" fill="#fff" stroke="#2ECBF0" stroke-width="1"/><circle cx="181.6" cy="495.1" r="2.3" fill="#fff" stroke="#2ECBF0" stroke-width="1"/><circle cx="220.1" cy="505.4" r="2.3" fill="#fff" stroke="#2ECBF0" stroke-width="1"/><circle cx="258.6" cy="505.4" r="2.3" fill="#fff" stroke="#2ECBF0" stroke-width="1"/><circle cx="297.2" cy="505.4" r="2.3" fill="#fff" stroke="#2ECBF0" stroke-width="1"/><circle cx="335.8" cy="507.5" r="2.3" fill="#fff" stroke="#2ECBF0" stroke-width="1"/>
<circle cx="65.9" cy="532.3" r="2.3" fill="#12B4F0"/><circle cx="104.5" cy="530.3" r="2.3" fill="#12B4F0"/><circle cx="143.0" cy="530.3" r="2.3" fill="#12B4F0"/><circle cx="181.6" cy="519.9" r="2.3" fill="#12B4F0"/><circle cx="220.1" cy="505.4" r="2.3" fill="#12B4F0"/><circle cx="258.6" cy="462.0" r="2.3" fill="#12B4F0"/><circle cx="297.2" cy="443.4" r="2.3" fill="#12B4F0"/><circle cx="335.8" cy="447.5" r="2.3" fill="#12B4F0"/>
<circle cx="65.9" cy="420.6" r="2.3" fill="#fff" stroke="#FF5A66" stroke-width="1"/><circle cx="104.5" cy="445.4" r="2.3" fill="#fff" stroke="#FF5A66" stroke-width="1"/><circle cx="143.0" cy="467.2" r="2.3" fill="#fff" stroke="#FF5A66" stroke-width="1"/><circle cx="181.6" cy="491.0" r="2.3" fill="#fff" stroke="#FF5A66" stroke-width="1"/><circle cx="220.1" cy="491.0" r="2.3" fill="#fff" stroke="#FF5A66" stroke-width="1"/><circle cx="258.6" cy="488.9" r="2.3" fill="#fff" stroke="#FF5A66" stroke-width="1"/><circle cx="297.2" cy="487.8" r="2.3" fill="#fff" stroke="#FF5A66" stroke-width="1"/><circle cx="335.8" cy="501.3" r="2.3" fill="#fff" stroke="#FF5A66" stroke-width="1"/>
<circle cx="65.9" cy="478.5" r="2.3" fill="url(#h1888D8)" stroke="#1888D8" stroke-width="0.9"/><circle cx="104.5" cy="435.9" r="2.3" fill="url(#h1888D8)" stroke="#1888D8" stroke-width="0.9"/><circle cx="143.0" cy="466.1" r="2.3" fill="url(#h1888D8)" stroke="#1888D8" stroke-width="0.9"/><circle cx="181.6" cy="478.5" r="2.3" fill="url(#h1888D8)" stroke="#1888D8" stroke-width="0.9"/><circle cx="220.1" cy="488.9" r="2.3" fill="url(#h1888D8)" stroke="#1888D8" stroke-width="0.9"/><circle cx="258.6" cy="493.0" r="2.3" fill="url(#h1888D8)" stroke="#1888D8" stroke-width="0.9"/><circle cx="297.2" cy="495.1" r="2.3" fill="url(#h1888D8)" stroke="#1888D8" stroke-width="0.9"/><circle cx="335.8" cy="497.2" r="2.3" fill="url(#h1888D8)" stroke="#1888D8" stroke-width="0.9"/>
<circle cx="65.9" cy="453.7" r="2.3" fill="#fff" stroke="#1E9EE0" stroke-width="1"/><circle cx="104.5" cy="439.2" r="2.3" fill="#fff" stroke="#1E9EE0" stroke-width="1"/><circle cx="143.0" cy="457.8" r="2.3" fill="#fff" stroke="#1E9EE0" stroke-width="1"/><circle cx="181.6" cy="478.5" r="2.3" fill="#fff" stroke="#1E9EE0" stroke-width="1"/><circle cx="220.1" cy="482.7" r="2.3" fill="#fff" stroke="#1E9EE0" stroke-width="1"/><circle cx="258.6" cy="485.2" r="2.3" fill="#fff" stroke="#1E9EE0" stroke-width="1"/><circle cx="297.2" cy="489.9" r="2.3" fill="#fff" stroke="#1E9EE0" stroke-width="1"/><circle cx="335.8" cy="498.4" r="2.3" fill="#fff" stroke="#1E9EE0" stroke-width="1"/>
<circle cx="65.9" cy="528.2" r="2.3" fill="#A6A6A6"/><circle cx="104.5" cy="528.2" r="2.3" fill="#A6A6A6"/><circle cx="143.0" cy="528.2" r="2.3" fill="#A6A6A6"/><circle cx="181.6" cy="526.1" r="2.3" fill="#A6A6A6"/><circle cx="220.1" cy="455.8" r="2.3" fill="#A6A6A6"/><circle cx="258.6" cy="404.1" r="2.3" fill="#A6A6A6"/><circle cx="297.2" cy="397.8" r="2.3" fill="#A6A6A6"/><circle cx="335.8" cy="397.8" r="2.3" fill="#A6A6A6"/>
<circle cx="65.9" cy="408.2" r="2.3" fill="#fff" stroke="#F5AE72" stroke-width="1"/><circle cx="104.5" cy="447.5" r="2.3" fill="#fff" stroke="#F5AE72" stroke-width="1"/><circle cx="143.0" cy="466.1" r="2.3" fill="#fff" stroke="#F5AE72" stroke-width="1"/><circle cx="181.6" cy="488.9" r="2.3" fill="#fff" stroke="#F5AE72" stroke-width="1"/><circle cx="220.1" cy="495.1" r="2.3" fill="#fff" stroke="#F5AE72" stroke-width="1"/><circle cx="258.6" cy="501.3" r="2.3" fill="#fff" stroke="#F5AE72" stroke-width="1"/><circle cx="297.2" cy="501.3" r="2.3" fill="#fff" stroke="#F5AE72" stroke-width="1"/><circle cx="335.8" cy="503.4" r="2.3" fill="#fff" stroke="#F5AE72" stroke-width="1"/>
<circle cx="65.9" cy="532.3" r="2.3" fill="#fff" stroke="#C583E6" stroke-width="1"/><circle cx="104.5" cy="532.3" r="2.3" fill="#fff" stroke="#C583E6" stroke-width="1"/><circle cx="143.0" cy="530.3" r="2.3" fill="#fff" stroke="#C583E6" stroke-width="1"/><circle cx="181.6" cy="530.3" r="2.3" fill="#fff" stroke="#C583E6" stroke-width="1"/><circle cx="220.1" cy="478.5" r="2.3" fill="#fff" stroke="#C583E6" stroke-width="1"/><circle cx="258.6" cy="379.2" r="2.3" fill="#fff" stroke="#C583E6" stroke-width="1"/><circle cx="297.2" cy="402.0" r="2.3" fill="#fff" stroke="#C583E6" stroke-width="1"/><circle cx="335.8" cy="408.2" r="2.3" fill="#fff" stroke="#C583E6" stroke-width="1"/>
<circle cx="65.9" cy="532.3" r="2.3" fill="url(#hA858D2)" stroke="#A858D2" stroke-width="0.9"/><circle cx="104.5" cy="532.3" r="2.3" fill="url(#hA858D2)" stroke="#A858D2" stroke-width="0.9"/><circle cx="143.0" cy="530.3" r="2.3" fill="url(#hA858D2)" stroke="#A858D2" stroke-width="0.9"/><circle cx="181.6" cy="530.3" r="2.3" fill="url(#hA858D2)" stroke="#A858D2" stroke-width="0.9"/><circle cx="220.1" cy="472.3" r="2.3" fill="url(#hA858D2)" stroke="#A858D2" stroke-width="0.9"/><circle cx="258.6" cy="414.4" r="2.3" fill="url(#hA858D2)" stroke="#A858D2" stroke-width="0.9"/><circle cx="297.2" cy="394.3" r="2.3" fill="url(#hA858D2)" stroke="#A858D2" stroke-width="0.9"/><circle cx="335.8" cy="410.3" r="2.3" fill="url(#hA858D2)" stroke="#A858D2" stroke-width="0.9"/>
<circle cx="65.9" cy="534.4" r="2.3" fill="#7A2FB0"/><circle cx="104.5" cy="534.4" r="2.3" fill="#7A2FB0"/><circle cx="143.0" cy="534.4" r="2.3" fill="#7A2FB0"/><circle cx="181.6" cy="532.3" r="2.3" fill="#7A2FB0"/><circle cx="220.1" cy="480.6" r="2.3" fill="#7A2FB0"/><circle cx="258.6" cy="416.5" r="2.3" fill="#7A2FB0"/><circle cx="297.2" cy="420.6" r="2.3" fill="#7A2FB0"/><circle cx="335.8" cy="422.7" r="2.3" fill="#7A2FB0"/>
<circle cx="65.9" cy="426.8" r="2.3" fill="#fff" stroke="#FF3030" stroke-width="1"/><circle cx="104.5" cy="449.6" r="2.3" fill="#fff" stroke="#FF3030" stroke-width="1"/><circle cx="143.0" cy="470.3" r="2.3" fill="#fff" stroke="#FF3030" stroke-width="1"/><circle cx="181.6" cy="491.0" r="2.3" fill="#fff" stroke="#FF3030" stroke-width="1"/><circle cx="220.1" cy="488.9" r="2.3" fill="#fff" stroke="#FF3030" stroke-width="1"/><circle cx="258.6" cy="493.0" r="2.3" fill="#fff" stroke="#FF3030" stroke-width="1"/><circle cx="297.2" cy="497.2" r="2.3" fill="#fff" stroke="#FF3030" stroke-width="1"/><circle cx="335.8" cy="499.2" r="2.3" fill="#fff" stroke="#FF3030" stroke-width="1"/>
<circle cx="65.9" cy="530.3" r="2.3" fill="#F00000"/><circle cx="104.5" cy="530.3" r="2.3" fill="#F00000"/><circle cx="143.0" cy="524.1" r="2.3" fill="#F00000"/><circle cx="181.6" cy="522.0" r="2.3" fill="#F00000"/><circle cx="220.1" cy="468.2" r="2.3" fill="#F00000"/><circle cx="258.6" cy="418.5" r="2.3" fill="#F00000"/><circle cx="297.2" cy="414.4" r="2.3" fill="#F00000"/><circle cx="335.8" cy="429.5" r="2.3" fill="#F00000"/>
<circle cx="65.9" cy="528.2" r="2.3" fill="url(#h92D050)" stroke="#92D050" stroke-width="0.9"/><circle cx="104.5" cy="522.0" r="2.3" fill="url(#h92D050)" stroke="#92D050" stroke-width="0.9"/><circle cx="143.0" cy="515.8" r="2.3" fill="url(#h92D050)" stroke="#92D050" stroke-width="0.9"/><circle cx="181.6" cy="509.6" r="2.3" fill="url(#h92D050)" stroke="#92D050" stroke-width="0.9"/><circle cx="220.1" cy="451.6" r="2.3" fill="url(#h92D050)" stroke="#92D050" stroke-width="0.9"/><circle cx="258.6" cy="410.3" r="2.3" fill="url(#h92D050)" stroke="#92D050" stroke-width="0.9"/><circle cx="297.2" cy="390.2" r="2.3" fill="url(#h92D050)" stroke="#92D050" stroke-width="0.9"/><circle cx="335.8" cy="391.6" r="2.3" fill="url(#h92D050)" stroke="#92D050" stroke-width="0.9"/>
<circle cx="65.9" cy="435.1" r="2.3" fill="#fff" stroke="#92D050" stroke-width="1"/><circle cx="104.5" cy="433.0" r="2.3" fill="#fff" stroke="#92D050" stroke-width="1"/><circle cx="143.0" cy="453.7" r="2.3" fill="#fff" stroke="#92D050" stroke-width="1"/><circle cx="181.6" cy="472.3" r="2.3" fill="#fff" stroke="#92D050" stroke-width="1"/><circle cx="220.1" cy="482.7" r="2.3" fill="#fff" stroke="#92D050" stroke-width="1"/><circle cx="258.6" cy="484.7" r="2.3" fill="#fff" stroke="#92D050" stroke-width="1"/><circle cx="297.2" cy="491.0" r="2.3" fill="#fff" stroke="#92D050" stroke-width="1"/><circle cx="335.8" cy="495.1" r="2.3" fill="#fff" stroke="#92D050" stroke-width="1"/>
<path d="M65.9 440.3L68.2 445.4L63.6 445.4Z" fill="#38963A"/><path d="M104.5 425.8L106.8 431.0L102.1 431.0Z" fill="#38963A"/><path d="M143.0 458.9L145.3 464.1L140.7 464.1Z" fill="#38963A"/><path d="M181.6 479.6L183.9 484.7L179.2 484.7Z" fill="#38963A"/><path d="M220.1 490.0L222.4 495.1L217.8 495.1Z" fill="#38963A"/><path d="M258.6 490.4L261.0 495.5L256.3 495.5Z" fill="#38963A"/><path d="M297.2 494.1L299.5 499.2L294.9 499.2Z" fill="#38963A"/><path d="M335.8 492.1L338.1 497.2L333.4 497.2Z" fill="#38963A"/>
<rect x="63.7" y="523.9" width="4.4" height="4.4" fill="#3A3A3A"/><rect x="102.3" y="523.9" width="4.4" height="4.4" fill="#3A3A3A"/><rect x="140.8" y="528.1" width="4.4" height="4.4" fill="#3A3A3A"/><rect x="179.4" y="526.0" width="4.4" height="4.4" fill="#3A3A3A"/><rect x="217.9" y="348.9" width="4.4" height="4.4" fill="#3A3A3A"/><rect x="256.5" y="360.5" width="4.4" height="4.4" fill="#3A3A3A"/><rect x="295.0" y="367.5" width="4.4" height="4.4" fill="#3A3A3A"/><rect x="333.6" y="379.1" width="4.4" height="4.4" fill="#3A3A3A"/>
<circle cx="65.9" cy="528.2" r="2.3" fill="url(#h555555)" stroke="#555555" stroke-width="0.9"/><circle cx="104.5" cy="528.2" r="2.3" fill="url(#h555555)" stroke="#555555" stroke-width="0.9"/><circle cx="143.0" cy="530.3" r="2.3" fill="url(#h555555)" stroke="#555555" stroke-width="0.9"/><circle cx="181.6" cy="530.3" r="2.3" fill="url(#h555555)" stroke="#555555" stroke-width="0.9"/><circle cx="220.1" cy="455.8" r="2.3" fill="url(#h555555)" stroke="#555555" stroke-width="0.9"/><circle cx="258.6" cy="342.0" r="2.3" fill="url(#h555555)" stroke="#555555" stroke-width="0.9"/><circle cx="297.2" cy="354.4" r="2.3" fill="url(#h555555)" stroke="#555555" stroke-width="0.9"/><circle cx="335.8" cy="356.5" r="2.3" fill="url(#h555555)" stroke="#555555" stroke-width="0.9"/>
<circle cx="65.9" cy="530.3" r="2.3" fill="#fff" stroke="#555555" stroke-width="1"/><circle cx="104.5" cy="528.2" r="2.3" fill="#fff" stroke="#555555" stroke-width="1"/><circle cx="143.0" cy="530.3" r="2.3" fill="#fff" stroke="#555555" stroke-width="1"/><circle cx="181.6" cy="530.3" r="2.3" fill="#fff" stroke="#555555" stroke-width="1"/><circle cx="220.1" cy="404.7" r="2.3" fill="#fff" stroke="#555555" stroke-width="1"/><circle cx="258.6" cy="352.7" r="2.3" fill="#fff" stroke="#555555" stroke-width="1"/><circle cx="297.2" cy="358.5" r="2.3" fill="#fff" stroke="#555555" stroke-width="1"/><circle cx="335.8" cy="364.7" r="2.3" fill="#fff" stroke="#555555" stroke-width="1"/>
<circle cx="65.9" cy="528.2" r="2.3" fill="url(#h777777)" stroke="#777777" stroke-width="0.9"/><circle cx="104.5" cy="528.2" r="2.3" fill="url(#h777777)" stroke="#777777" stroke-width="0.9"/><circle cx="143.0" cy="530.3" r="2.3" fill="url(#h777777)" stroke="#777777" stroke-width="0.9"/><circle cx="181.6" cy="530.3" r="2.3" fill="url(#h777777)" stroke="#777777" stroke-width="0.9"/><circle cx="220.1" cy="392.3" r="2.3" fill="url(#h777777)" stroke="#777777" stroke-width="0.9"/><circle cx="258.6" cy="352.3" r="2.3" fill="url(#h777777)" stroke="#777777" stroke-width="0.9"/><circle cx="297.2" cy="368.9" r="2.3" fill="url(#h777777)" stroke="#777777" stroke-width="0.9"/><circle cx="335.8" cy="358.5" r="2.3" fill="url(#h777777)" stroke="#777777" stroke-width="0.9"/>
<circle cx="65.9" cy="526.1" r="2.3" fill="#1A1A1A"/><circle cx="104.5" cy="526.1" r="2.3" fill="#1A1A1A"/><circle cx="143.0" cy="528.2" r="2.3" fill="#1A1A1A"/><circle cx="181.6" cy="528.2" r="2.3" fill="#1A1A1A"/><circle cx="220.1" cy="420.6" r="2.3" fill="#1A1A1A"/><circle cx="258.6" cy="360.6" r="2.3" fill="#1A1A1A"/><circle cx="297.2" cy="358.7" r="2.3" fill="#1A1A1A"/><circle cx="335.8" cy="364.7" r="2.3" fill="#1A1A1A"/>
</g>
<text transform="translate(15.2 713.3) rotate(-90)" font-size="11" text-anchor="middle" textLength="204" lengthAdjust="spacingAndGlyphs">Residual lipase activity (as % lipase activity)</text>
<text x="37.8" y="590.2" font-size="19" textLength="20.3" lengthAdjust="spacingAndGlyphs" style="stroke-width:0.1px">(c)</text>
<text transform="translate(116.4 592.6) scale(1.07 1)" font-size="13.8" letter-spacing="0.2" style="stroke-width:0.05px">pH 5</text>
<text transform="translate(270.9 592.6) scale(1.07 1)" font-size="13.8" letter-spacing="0.2" style="stroke-width:0.05px">pH 6</text>
<g transform="translate(1.0 0)">
<path d="M46.5 608.5V816.4M43.3 816.4H355.5" stroke="#5e5e5e" stroke-width="1" fill="none"/>
<path d="M43.3 795.6H46.5M43.3 774.8H46.5M43.3 754.0H46.5M43.3 733.2H46.5M43.3 712.5H46.5M43.3 691.7H46.5M43.3 670.9H46.5M43.3 650.1H46.5M43.3 629.3H46.5M43.3 608.5H46.5M104.5 816.4v2.5M143.0 816.4v2.5M181.6 816.4v2.5M220.1 816.4v2.5M258.6 816.4v2.5M297.2 816.4v2.5M335.8 816.4v2.5M355.5 816.4v2.5" stroke="#5e5e5e" stroke-width="1" fill="none"/>
<text x="36.2" y="819.3" font-size="10.5" text-anchor="end">0</text>
<text x="36.2" y="798.5" font-size="10.5" text-anchor="end">10</text>
<text x="36.2" y="777.7" font-size="10.5" text-anchor="end">20</text>
<text x="36.2" y="756.9" font-size="10.5" text-anchor="end">30</text>
<text x="36.2" y="736.1" font-size="10.5" text-anchor="end">40</text>
<text x="36.2" y="715.4" font-size="10.5" text-anchor="end">50</text>
<text x="36.2" y="694.6" font-size="10.5" text-anchor="end">60</text>
<text x="36.2" y="673.8" font-size="10.5" text-anchor="end">70</text>
<text x="36.2" y="653.0" font-size="10.5" text-anchor="end">80</text>
<text x="36.2" y="632.2" font-size="10.5" text-anchor="end">90</text>
<text x="36.2" y="611.4" font-size="10.5" text-anchor="end">100</text>
<text x="66.3" y="835.0" font-size="10.8" text-anchor="middle">15</text>
<text x="104.9" y="835.0" font-size="10.8" text-anchor="middle">30</text>
<text x="143.4" y="835.0" font-size="10.8" text-anchor="middle">45</text>
<text x="182.0" y="835.0" font-size="10.8" text-anchor="middle">60</text>
<text x="220.5" y="835.0" font-size="10.8" text-anchor="middle">75</text>
<text x="259.0" y="835.0" font-size="10.8" text-anchor="middle">90</text>
<text x="297.6" y="835.0" font-size="10.8" text-anchor="middle">105</text>
<text x="336.1" y="835.0" font-size="10.8" text-anchor="middle">120</text>
<text x="201" y="850.7" font-size="11" text-anchor="middle" textLength="69.8" lengthAdjust="spacingAndGlyphs">Time [Minutes]</text>
<path d="M181.6 606.3V816.4" stroke="#E8365E" stroke-width="1.1" stroke-dasharray="2 1.7" fill="none"/>
<polyline points="65.9,797.7 104.5,747.2 143.0,718.7 181.6,738.9 220.1,724.9 258.6,727.0 297.2,731.2 335.8,735.3" fill="none" stroke="#FFD91A" stroke-width="1.0" stroke-dasharray="1.2 1.2"/>
<polyline points="65.9,782.7 104.5,724.9 143.0,706.2 181.6,691.7 220.1,695.8 258.6,718.7 297.2,729.1 335.8,733.2" fill="none" stroke="#FFC000" stroke-width="1.0"/>
<polyline points="65.9,666.7 104.5,663.6 143.0,677.1 181.6,690.4 220.1,700.0 258.6,691.0 297.2,692.1 335.8,700.6" fill="none" stroke="#FFD43B" stroke-width="1.0" stroke-dasharray="2 1.5"/>
<polyline points="65.9,758.2 104.5,701.4 143.0,677.1 181.6,670.9 220.1,697.9 258.6,701.2 297.2,702.1 335.8,703.5" fill="none" stroke="#FFE27A" stroke-width="1.2"/>
<polyline points="65.9,806.0 104.5,754.0 143.0,722.8 181.6,712.5 220.1,733.2 258.6,735.3 297.2,739.5 335.8,743.6" fill="none" stroke="#12C4F2" stroke-width="1.0" stroke-dasharray="2.5 1.5"/>
<polyline points="65.9,724.9 104.5,668.8 143.0,688.7 181.6,712.5 220.1,722.8 258.6,729.1 297.2,733.2 335.8,739.5" fill="none" stroke="#00B0F0" stroke-width="1.2"/>
<polyline points="65.9,654.2 104.5,685.4 143.0,702.1 181.6,716.6 220.1,729.1 258.6,733.2 297.2,737.4 335.8,741.6" fill="none" stroke="#2ECBF0" stroke-width="1.3" stroke-dasharray="3 2"/>
<polyline points="65.9,745.7 104.5,718.7 143.0,708.3 181.6,714.5 220.1,741.6 258.6,733.2 297.2,739.5 335.8,743.6" fill="none" stroke="#12B4F0" stroke-width="1.2"/>
<polyline points="65.9,662.6 104.5,687.5 143.0,701.2 181.6,720.8 220.1,729.1 258.6,737.4 297.2,741.6 335.8,745.7" fill="none" stroke="#FF5A66" stroke-width="1.3" stroke-dasharray="4 2"/>
<polyline points="65.9,745.1 104.5,718.7 143.0,689.6 181.6,712.5 220.1,724.9 258.6,727.0 297.2,731.2 335.8,737.4" fill="none" stroke="#1888D8" stroke-width="1.0" stroke-dasharray="1.2 1.2"/>
<polyline points="65.9,803.9 104.5,753.2 143.0,710.4 181.6,722.8 220.1,727.0 258.6,733.2 297.2,737.4 335.8,743.6" fill="none" stroke="#1E9EE0" stroke-width="1.0" stroke-dasharray="3 2"/>
<polyline points="65.9,810.2 104.5,797.1 143.0,770.7 181.6,747.8 220.1,722.8 258.6,703.7 297.2,713.7 335.8,708.3" fill="none" stroke="#A6A6A6" stroke-width="1.0"/>
<polyline points="65.9,705.0 104.5,695.8 143.0,708.3 181.6,724.9 220.1,737.4 258.6,741.6 297.2,743.6 335.8,754.0" fill="none" stroke="#F5AE72" stroke-width="1.0" stroke-dasharray="3 2"/>
<polyline points="65.9,799.8 104.5,751.1 143.0,722.8 181.6,724.9 220.1,731.2 258.6,737.4 297.2,739.5 335.8,745.7" fill="none" stroke="#C583E6" stroke-width="1.0" stroke-dasharray="3 2"/>
<polyline points="65.9,797.1 104.5,741.1 143.0,719.1 181.6,721.6 220.1,727.0 258.6,733.2 297.2,737.4 335.8,739.5" fill="none" stroke="#A858D2" stroke-width="1.0" stroke-dasharray="1.2 1.2"/>
<polyline points="65.9,801.8 104.5,730.5 143.0,715.2 181.6,718.7 220.1,729.1 258.6,735.3 297.2,741.6 335.8,741.6" fill="none" stroke="#7A2FB0" stroke-width="1.0"/>
<polyline points="65.9,677.1 104.5,691.7 143.0,708.3 181.6,722.8 220.1,733.2 258.6,739.5 297.2,743.6 335.8,747.8" fill="none" stroke="#FF3030" stroke-width="1.0" stroke-dasharray="3 2"/>
<polyline points="65.9,802.7 104.5,762.3 143.0,728.7 181.6,728.7 220.1,724.9 258.6,739.5 297.2,737.4 335.8,749.9" fill="none" stroke="#F00000" stroke-width="1.0"/>
<polyline points="65.9,799.8 104.5,776.9 143.0,764.4 181.6,747.2 220.1,693.7 258.6,695.0 297.2,705.8 335.8,709.5" fill="none" stroke="#92D050" stroke-width="1.0" stroke-dasharray="1.2 1.2"/>
<polyline points="65.9,664.6 104.5,664.6 143.0,681.3 181.6,695.8 220.1,693.7 258.6,695.0 297.2,697.5 335.8,707.5" fill="none" stroke="#92D050" stroke-width="1.0" stroke-dasharray="3 2"/>
<polyline points="65.9,637.6 104.5,656.3 143.0,662.6 181.6,668.8 220.1,678.6 258.6,689.6 297.2,692.9 335.8,697.9" fill="none" stroke="#38963A" stroke-width="1.0"/>
<polyline points="65.9,814.3 104.5,814.3 143.0,814.3 181.6,814.3 220.1,642.8 258.6,626.8 297.2,639.3 335.8,645.3" fill="none" stroke="#3A3A3A" stroke-width="1.0"/>
<polyline points="65.9,805.4 104.5,805.4 143.0,803.9 181.6,803.9 220.1,659.4 258.6,639.3 297.2,645.3 335.8,653.8" fill="none" stroke="#555555" stroke-width="1.0" stroke-dasharray="1.2 1.2"/>
<polyline points="65.9,812.2 104.5,812.2 143.0,812.2 181.6,812.2 220.1,753.6 258.6,639.7 297.2,656.3 335.8,663.8" fill="none" stroke="#555555" stroke-width="1.0" stroke-dasharray="4 2"/>
<polyline points="65.9,812.2 104.5,810.2 143.0,810.2 181.6,810.2 220.1,759.6 258.6,629.3 297.2,645.3 335.8,647.6" fill="none" stroke="#777777" stroke-width="1.0" stroke-dasharray="1.2 1.2"/>
<polyline points="65.9,810.2 104.5,809.3 143.0,810.2 181.6,810.2 220.1,712.5 258.6,628.9 297.2,635.1 335.8,639.3" fill="none" stroke="#1A1A1A" stroke-width="1.0"/>
<circle cx="65.9" cy="797.7" r="2.3" fill="url(#hFFD91A)" stroke="#FFD91A" stroke-width="0.9"/><circle cx="104.5" cy="747.2" r="2.3" fill="url(#hFFD91A)" stroke="#FFD91A" stroke-width="0.9"/><circle cx="143.0" cy="718.7" r="2.3" fill="url(#hFFD91A)" stroke="#FFD91A" stroke-width="0.9"/><circle cx="181.6" cy="738.9" r="2.3" fill="url(#hFFD91A)" stroke="#FFD91A" stroke-width="0.9"/><circle cx="220.1" cy="724.9" r="2.3" fill="url(#hFFD91A)" stroke="#FFD91A" stroke-width="0.9"/><circle cx="258.6" cy="727.0" r="2.3" fill="url(#hFFD91A)" stroke="#FFD91A" stroke-width="0.9"/><circle cx="297.2" cy="731.2" r="2.3" fill="url(#hFFD91A)" stroke="#FFD91A" stroke-width="0.9"/><circle cx="335.8" cy="735.3" r="2.3" fill="url(#hFFD91A)" stroke="#FFD91A" stroke-width="0.9"/>
<path d="M65.9 779.7L68.2 784.8L63.6 784.8Z" fill="#FFC000"/><path d="M104.5 721.9L106.8 727.0L102.1 727.0Z" fill="#FFC000"/><path d="M143.0 703.2L145.3 708.3L140.7 708.3Z" fill="#FFC000"/><path d="M181.6 688.6L183.9 693.7L179.2 693.7Z" fill="#FFC000"/><path d="M220.1 692.8L222.4 697.9L217.8 697.9Z" fill="#FFC000"/><path d="M258.6 715.7L261.0 720.8L256.3 720.8Z" fill="#FFC000"/><path d="M297.2 726.0L299.5 731.2L294.9 731.2Z" fill="#FFC000"/><path d="M335.8 730.2L338.1 735.3L333.4 735.3Z" fill="#FFC000"/>
<circle cx="65.9" cy="666.7" r="2.3" fill="#fff" stroke="#FFD43B" stroke-width="1"/><circle cx="104.5" cy="663.6" r="2.3" fill="#fff" stroke="#FFD43B" stroke-width="1"/><circle cx="143.0" cy="677.1" r="2.3" fill="#fff" stroke="#FFD43B" stroke-width="1"/><circle cx="181.6" cy="690.4" r="2.3" fill="#fff" stroke="#FFD43B" stroke-width="1"/><circle cx="220.1" cy="700.0" r="2.3" fill="#fff" stroke="#FFD43B" stroke-width="1"/><circle cx="258.6" cy="691.0" r="2.3" fill="#fff" stroke="#FFD43B" stroke-width="1"/><circle cx="297.2" cy="692.1" r="2.3" fill="#fff" stroke="#FFD43B" stroke-width="1"/><circle cx="335.8" cy="700.6" r="2.3" fill="#fff" stroke="#FFD43B" stroke-width="1"/>
<circle cx="65.9" cy="758.2" r="2.3" fill="#FFC61A"/><circle cx="104.5" cy="701.4" r="2.3" fill="#FFC61A"/><circle cx="143.0" cy="677.1" r="2.3" fill="#FFC61A"/><circle cx="181.6" cy="670.9" r="2.3" fill="#FFC61A"/><circle cx="220.1" cy="697.9" r="2.3" fill="#FFC61A"/><circle cx="258.6" cy="701.2" r="2.3" fill="#FFC61A"/><circle cx="297.2" cy="702.1" r="2.3" fill="#FFC61A"/><circle cx="335.8" cy="703.5" r="2.3" fill="#FFC61A"/>
<circle cx="65.9" cy="806.0" r="2.3" fill="url(#h12C4F2)" stroke="#12C4F2" stroke-width="0.9"/><circle cx="104.5" cy="754.0" r="2.3" fill="url(#h12C4F2)" stroke="#12C4F2" stroke-width="0.9"/><circle cx="143.0" cy="722.8" r="2.3" fill="url(#h12C4F2)" stroke="#12C4F2" stroke-width="0.9"/><circle cx="181.6" cy="712.5" r="2.3" fill="url(#h12C4F2)" stroke="#12C4F2" stroke-width="0.9"/><circle cx="220.1" cy="733.2" r="2.3" fill="url(#h12C4F2)" stroke="#12C4F2" stroke-width="0.9"/><circle cx="258.6" cy="735.3" r="2.3" fill="url(#h12C4F2)" stroke="#12C4F2" stroke-width="0.9"/><circle cx="297.2" cy="739.5" r="2.3" fill="url(#h12C4F2)" stroke="#12C4F2" stroke-width="0.9"/><circle cx="335.8" cy="743.6" r="2.3" fill="url(#h12C4F2)" stroke="#12C4F2" stroke-width="0.9"/>
<rect x="63.7" y="722.7" width="4.4" height="4.4" fill="#00B0F0"/><rect x="102.3" y="666.6" width="4.4" height="4.4" fill="#00B0F0"/><rect x="140.8" y="686.6" width="4.4" height="4.4" fill="#00B0F0"/><rect x="179.4" y="710.3" width="4.4" height="4.4" fill="#00B0F0"/><rect x="217.9" y="720.7" width="4.4" height="4.4" fill="#00B0F0"/><rect x="256.5" y="726.9" width="4.4" height="4.4" fill="#00B0F0"/><rect x="295.0" y="731.1" width="4.4" height="4.4" fill="#00B0F0"/><rect x="333.6" y="737.3" width="4.4" height="4.4" fill="#00B0F0"/>
<circle cx="65.9" cy="654.2" r="2.3" fill="#fff" stroke="#2ECBF0" stroke-width="1"/><circle cx="104.5" cy="685.4" r="2.3" fill="#fff" stroke="#2ECBF0" stroke-width="1"/><circle cx="143.0" cy="702.1" r="2.3" fill="#fff" stroke="#2ECBF0" stroke-width="1"/><circle cx="181.6" cy="716.6" r="2.3" fill="#fff" stroke="#2ECBF0" stroke-width="1"/><circle cx="220.1" cy="729.1" r="2.3" fill="#fff" stroke="#2ECBF0" stroke-width="1"/><circle cx="258.6" cy="733.2" r="2.3" fill="#fff" stroke="#2ECBF0" stroke-width="1"/><circle cx="297.2" cy="737.4" r="2.3" fill="#fff" stroke="#2ECBF0" stroke-width="1"/><circle cx="335.8" cy="741.6" r="2.3" fill="#fff" stroke="#2ECBF0" stroke-width="1"/>
<circle cx="65.9" cy="745.7" r="2.3" fill="#12B4F0"/><circle cx="104.5" cy="718.7" r="2.3" fill="#12B4F0"/><circle cx="143.0" cy="708.3" r="2.3" fill="#12B4F0"/><circle cx="181.6" cy="714.5" r="2.3" fill="#12B4F0"/><circle cx="220.1" cy="741.6" r="2.3" fill="#12B4F0"/><circle cx="258.6" cy="733.2" r="2.3" fill="#12B4F0"/><circle cx="297.2" cy="739.5" r="2.3" fill="#12B4F0"/><circle cx="335.8" cy="743.6" r="2.3" fill="#12B4F0"/>
<circle cx="65.9" cy="662.6" r="2.3" fill="#fff" stroke="#FF5A66" stroke-width="1"/><circle cx="104.5" cy="687.5" r="2.3" fill="#fff" stroke="#FF5A66" stroke-width="1"/><circle cx="143.0" cy="701.2" r="2.3" fill="#fff" stroke="#FF5A66" stroke-width="1"/><circle cx="181.6" cy="720.8" r="2.3" fill="#fff" stroke="#FF5A66" stroke-width="1"/><circle cx="220.1" cy="729.1" r="2.3" fill="#fff" stroke="#FF5A66" stroke-width="1"/><circle cx="258.6" cy="737.4" r="2.3" fill="#fff" stroke="#FF5A66" stroke-width="1"/><circle cx="297.2" cy="741.6" r="2.3" fill="#fff" stroke="#FF5A66" stroke-width="1"/><circle cx="335.8" cy="745.7" r="2.3" fill="#fff" stroke="#FF5A66" stroke-width="1"/>
<circle cx="65.9" cy="745.1" r="2.3" fill="url(#h1888D8)" stroke="#1888D8" stroke-width="0.9"/><circle cx="104.5" cy="718.7" r="2.3" fill="url(#h1888D8)" stroke="#1888D8" stroke-width="0.9"/><circle cx="143.0" cy="689.6" r="2.3" fill="url(#h1888D8)" stroke="#1888D8" stroke-width="0.9"/><circle cx="181.6" cy="712.5" r="2.3" fill="url(#h1888D8)" stroke="#1888D8" stroke-width="0.9"/><circle cx="220.1" cy="724.9" r="2.3" fill="url(#h1888D8)" stroke="#1888D8" stroke-width="0.9"/><circle cx="258.6" cy="727.0" r="2.3" fill="url(#h1888D8)" stroke="#1888D8" stroke-width="0.9"/><circle cx="297.2" cy="731.2" r="2.3" fill="url(#h1888D8)" stroke="#1888D8" stroke-width="0.9"/><circle cx="335.8" cy="737.4" r="2.3" fill="url(#h1888D8)" stroke="#1888D8" stroke-width="0.9"/>
<circle cx="65.9" cy="803.9" r="2.3" fill="#fff" stroke="#1E9EE0" stroke-width="1"/><circle cx="104.5" cy="753.2" r="2.3" fill="#fff" stroke="#1E9EE0" stroke-width="1"/><circle cx="143.0" cy="710.4" r="2.3" fill="#fff" stroke="#1E9EE0" stroke-width="1"/><circle cx="181.6" cy="722.8" r="2.3" fill="#fff" stroke="#1E9EE0" stroke-width="1"/><circle cx="220.1" cy="727.0" r="2.3" fill="#fff" stroke="#1E9EE0" stroke-width="1"/><circle cx="258.6" cy="733.2" r="2.3" fill="#fff" stroke="#1E9EE0" stroke-width="1"/><circle cx="297.2" cy="737.4" r="2.3" fill="#fff" stroke="#1E9EE0" stroke-width="1"/><circle cx="335.8" cy="743.6" r="2.3" fill="#fff" stroke="#1E9EE0" stroke-width="1"/>
<circle cx="65.9" cy="810.2" r="2.3" fill="#A6A6A6"/><circle cx="104.5" cy="797.1" r="2.3" fill="#A6A6A6"/><circle cx="143.0" cy="770.7" r="2.3" fill="#A6A6A6"/><circle cx="181.6" cy="747.8" r="2.3" fill="#A6A6A6"/><circle cx="220.1" cy="722.8" r="2.3" fill="#A6A6A6"/><circle cx="258.6" cy="703.7" r="2.3" fill="#A6A6A6"/><circle cx="297.2" cy="713.7" r="2.3" fill="#A6A6A6"/><circle cx="335.8" cy="708.3" r="2.3" fill="#A6A6A6"/>
<circle cx="65.9" cy="705.0" r="2.3" fill="#fff" stroke="#F5AE72" stroke-width="1"/><circle cx="104.5" cy="695.8" r="2.3" fill="#fff" stroke="#F5AE72" stroke-width="1"/><circle cx="143.0" cy="708.3" r="2.3" fill="#fff" stroke="#F5AE72" stroke-width="1"/><circle cx="181.6" cy="724.9" r="2.3" fill="#fff" stroke="#F5AE72" stroke-width="1"/><circle cx="220.1" cy="737.4" r="2.3" fill="#fff" stroke="#F5AE72" stroke-width="1"/><circle cx="258.6" cy="741.6" r="2.3" fill="#fff" stroke="#F5AE72" stroke-width="1"/><circle cx="297.2" cy="743.6" r="2.3" fill="#fff" stroke="#F5AE72" stroke-width="1"/><circle cx="335.8" cy="754.0" r="2.3" fill="#fff" stroke="#F5AE72" stroke-width="1"/>
<circle cx="65.9" cy="799.8" r="2.3" fill="#fff" stroke="#C583E6" stroke-width="1"/><circle cx="104.5" cy="751.1" r="2.3" fill="#fff" stroke="#C583E6" stroke-width="1"/><circle cx="143.0" cy="722.8" r="2.3" fill="#fff" stroke="#C583E6" stroke-width="1"/><circle cx="181.6" cy="724.9" r="2.3" fill="#fff" stroke="#C583E6" stroke-width="1"/><circle cx="220.1" cy="731.2" r="2.3" fill="#fff" stroke="#C583E6" stroke-width="1"/><circle cx="258.6" cy="737.4" r="2.3" fill="#fff" stroke="#C583E6" stroke-width="1"/><circle cx="297.2" cy="739.5" r="2.3" fill="#fff" stroke="#C583E6" stroke-width="1"/><circle cx="335.8" cy="745.7" r="2.3" fill="#fff" stroke="#C583E6" stroke-width="1"/>
<circle cx="65.9" cy="797.1" r="2.3" fill="url(#hA858D2)" stroke="#A858D2" stroke-width="0.9"/><circle cx="104.5" cy="741.1" r="2.3" fill="url(#hA858D2)" stroke="#A858D2" stroke-width="0.9"/><circle cx="143.0" cy="719.1" r="2.3" fill="url(#hA858D2)" stroke="#A858D2" stroke-width="0.9"/><circle cx="181.6" cy="721.6" r="2.3" fill="url(#hA858D2)" stroke="#A858D2" stroke-width="0.9"/><circle cx="220.1" cy="727.0" r="2.3" fill="url(#hA858D2)" stroke="#A858D2" stroke-width="0.9"/><circle cx="258.6" cy="733.2" r="2.3" fill="url(#hA858D2)" stroke="#A858D2" stroke-width="0.9"/><circle cx="297.2" cy="737.4" r="2.3" fill="url(#hA858D2)" stroke="#A858D2" stroke-width="0.9"/><circle cx="335.8" cy="739.5" r="2.3" fill="url(#hA858D2)" stroke="#A858D2" stroke-width="0.9"/>
<circle cx="65.9" cy="801.8" r="2.3" fill="#7A2FB0"/><circle cx="104.5" cy="730.5" r="2.3" fill="#7A2FB0"/><circle cx="143.0" cy="715.2" r="2.3" fill="#7A2FB0"/><circle cx="181.6" cy="718.7" r="2.3" fill="#7A2FB0"/><circle cx="220.1" cy="729.1" r="2.3" fill="#7A2FB0"/><circle cx="258.6" cy="735.3" r="2.3" fill="#7A2FB0"/><circle cx="297.2" cy="741.6" r="2.3" fill="#7A2FB0"/><circle cx="335.8" cy="741.6" r="2.3" fill="#7A2FB0"/>
<circle cx="65.9" cy="677.1" r="2.3" fill="#fff" stroke="#FF3030" stroke-width="1"/><circle cx="104.5" cy="691.7" r="2.3" fill="#fff" stroke="#FF3030" stroke-width="1"/><circle cx="143.0" cy="708.3" r="2.3" fill="#fff" stroke="#FF3030" stroke-width="1"/><circle cx="181.6" cy="722.8" r="2.3" fill="#fff" stroke="#FF3030" stroke-width="1"/><circle cx="220.1" cy="733.2" r="2.3" fill="#fff" stroke="#FF3030" stroke-width="1"/><circle cx="258.6" cy="739.5" r="2.3" fill="#fff" stroke="#FF3030" stroke-width="1"/><circle cx="297.2" cy="743.6" r="2.3" fill="#fff" stroke="#FF3030" stroke-width="1"/><circle cx="335.8" cy="747.8" r="2.3" fill="#fff" stroke="#FF3030" stroke-width="1"/>
<circle cx="65.9" cy="802.7" r="2.3" fill="#F00000"/><circle cx="104.5" cy="762.3" r="2.3" fill="#F00000"/><circle cx="143.0" cy="728.7" r="2.3" fill="#F00000"/><circle cx="181.6" cy="728.7" r="2.3" fill="#F00000"/><circle cx="220.1" cy="724.9" r="2.3" fill="#F00000"/><circle cx="258.6" cy="739.5" r="2.3" fill="#F00000"/><circle cx="297.2" cy="737.4" r="2.3" fill="#F00000"/><circle cx="335.8" cy="749.9" r="2.3" fill="#F00000"/>
<circle cx="65.9" cy="799.8" r="2.3" fill="url(#h92D050)" stroke="#92D050" stroke-width="0.9"/><circle cx="104.5" cy="776.9" r="2.3" fill="url(#h92D050)" stroke="#92D050" stroke-width="0.9"/><circle cx="143.0" cy="764.4" r="2.3" fill="url(#h92D050)" stroke="#92D050" stroke-width="0.9"/><circle cx="181.6" cy="747.2" r="2.3" fill="url(#h92D050)" stroke="#92D050" stroke-width="0.9"/><circle cx="220.1" cy="693.7" r="2.3" fill="url(#h92D050)" stroke="#92D050" stroke-width="0.9"/><circle cx="258.6" cy="695.0" r="2.3" fill="url(#h92D050)" stroke="#92D050" stroke-width="0.9"/><circle cx="297.2" cy="705.8" r="2.3" fill="url(#h92D050)" stroke="#92D050" stroke-width="0.9"/><circle cx="335.8" cy="709.5" r="2.3" fill="url(#h92D050)" stroke="#92D050" stroke-width="0.9"/>
<circle cx="65.9" cy="664.6" r="2.3" fill="#fff" stroke="#92D050" stroke-width="1"/><circle cx="104.5" cy="664.6" r="2.3" fill="#fff" stroke="#92D050" stroke-width="1"/><circle cx="143.0" cy="681.3" r="2.3" fill="#fff" stroke="#92D050" stroke-width="1"/><circle cx="181.6" cy="695.8" r="2.3" fill="#fff" stroke="#92D050" stroke-width="1"/><circle cx="220.1" cy="693.7" r="2.3" fill="#fff" stroke="#92D050" stroke-width="1"/><circle cx="258.6" cy="695.0" r="2.3" fill="#fff" stroke="#92D050" stroke-width="1"/><circle cx="297.2" cy="697.5" r="2.3" fill="#fff" stroke="#92D050" stroke-width="1"/><circle cx="335.8" cy="707.5" r="2.3" fill="#fff" stroke="#92D050" stroke-width="1"/>
<path d="M65.9 634.6L68.2 639.7L63.6 639.7Z" fill="#38963A"/><path d="M104.5 653.3L106.8 658.4L102.1 658.4Z" fill="#38963A"/><path d="M143.0 659.5L145.3 664.6L140.7 664.6Z" fill="#38963A"/><path d="M181.6 665.8L183.9 670.9L179.2 670.9Z" fill="#38963A"/><path d="M220.1 675.5L222.4 680.6L217.8 680.6Z" fill="#38963A"/><path d="M258.6 686.5L261.0 691.7L256.3 691.7Z" fill="#38963A"/><path d="M297.2 689.9L299.5 695.0L294.9 695.0Z" fill="#38963A"/><path d="M335.8 694.9L338.1 700.0L333.4 700.0Z" fill="#38963A"/>
<rect x="63.7" y="812.1" width="4.4" height="4.4" fill="#3A3A3A"/><rect x="102.3" y="812.1" width="4.4" height="4.4" fill="#3A3A3A"/><rect x="140.8" y="812.1" width="4.4" height="4.4" fill="#3A3A3A"/><rect x="179.4" y="812.1" width="4.4" height="4.4" fill="#3A3A3A"/><rect x="217.9" y="640.6" width="4.4" height="4.4" fill="#3A3A3A"/><rect x="256.5" y="624.6" width="4.4" height="4.4" fill="#3A3A3A"/><rect x="295.0" y="637.1" width="4.4" height="4.4" fill="#3A3A3A"/><rect x="333.6" y="643.1" width="4.4" height="4.4" fill="#3A3A3A"/>
<circle cx="65.9" cy="805.4" r="2.3" fill="url(#h555555)" stroke="#555555" stroke-width="0.9"/><circle cx="104.5" cy="805.4" r="2.3" fill="url(#h555555)" stroke="#555555" stroke-width="0.9"/><circle cx="143.0" cy="803.9" r="2.3" fill="url(#h555555)" stroke="#555555" stroke-width="0.9"/><circle cx="181.6" cy="803.9" r="2.3" fill="url(#h555555)" stroke="#555555" stroke-width="0.9"/><circle cx="220.1" cy="659.4" r="2.3" fill="url(#h555555)" stroke="#555555" stroke-width="0.9"/><circle cx="258.6" cy="639.3" r="2.3" fill="url(#h555555)" stroke="#555555" stroke-width="0.9"/><circle cx="297.2" cy="645.3" r="2.3" fill="url(#h555555)" stroke="#555555" stroke-width="0.9"/><circle cx="335.8" cy="653.8" r="2.3" fill="url(#h555555)" stroke="#555555" stroke-width="0.9"/>
<circle cx="65.9" cy="812.2" r="2.3" fill="#fff" stroke="#555555" stroke-width="1"/><circle cx="104.5" cy="812.2" r="2.3" fill="#fff" stroke="#555555" stroke-width="1"/><circle cx="143.0" cy="812.2" r="2.3" fill="#fff" stroke="#555555" stroke-width="1"/><circle cx="181.6" cy="812.2" r="2.3" fill="#fff" stroke="#555555" stroke-width="1"/><circle cx="220.1" cy="753.6" r="2.3" fill="#fff" stroke="#555555" stroke-width="1"/><circle cx="258.6" cy="639.7" r="2.3" fill="#fff" stroke="#555555" stroke-width="1"/><circle cx="297.2" cy="656.3" r="2.3" fill="#fff" stroke="#555555" stroke-width="1"/><circle cx="335.8" cy="663.8" r="2.3" fill="#fff" stroke="#555555" stroke-width="1"/>
<circle cx="65.9" cy="812.2" r="2.3" fill="url(#h777777)" stroke="#777777" stroke-width="0.9"/><circle cx="104.5" cy="810.2" r="2.3" fill="url(#h777777)" stroke="#777777" stroke-width="0.9"/><circle cx="143.0" cy="810.2" r="2.3" fill="url(#h777777)" stroke="#777777" stroke-width="0.9"/><circle cx="181.6" cy="810.2" r="2.3" fill="url(#h777777)" stroke="#777777" stroke-width="0.9"/><circle cx="220.1" cy="759.6" r="2.3" fill="url(#h777777)" stroke="#777777" stroke-width="0.9"/><circle cx="258.6" cy="629.3" r="2.3" fill="url(#h777777)" stroke="#777777" stroke-width="0.9"/><circle cx="297.2" cy="645.3" r="2.3" fill="url(#h777777)" stroke="#777777" stroke-width="0.9"/><circle cx="335.8" cy="647.6" r="2.3" fill="url(#h777777)" stroke="#777777" stroke-width="0.9"/>
<circle cx="65.9" cy="810.2" r="2.3" fill="#1A1A1A"/><circle cx="104.5" cy="809.3" r="2.3" fill="#1A1A1A"/><circle cx="143.0" cy="810.2" r="2.3" fill="#1A1A1A"/><circle cx="181.6" cy="810.2" r="2.3" fill="#1A1A1A"/><circle cx="220.1" cy="712.5" r="2.3" fill="#1A1A1A"/><circle cx="258.6" cy="628.9" r="2.3" fill="#1A1A1A"/><circle cx="297.2" cy="635.1" r="2.3" fill="#1A1A1A"/><circle cx="335.8" cy="639.3" r="2.3" fill="#1A1A1A"/>
</g>
<path d="M65.9 245.5H181.6" stroke="#A3C596" stroke-width="2"/>
<circle cx="65.9" cy="245.5" r="2.7" fill="#2E8B2E"/>
<circle cx="104.5" cy="245.5" r="2.7" fill="#2E8B2E"/>
<circle cx="143.0" cy="245.5" r="2.7" fill="#2E8B2E"/>
<circle cx="181.6" cy="245.5" r="2.7" fill="#2E8B2E"/>
<rect x="404" y="7.5" width="100.8" height="71.5" fill="#fff" stroke="#7a7a7a" stroke-width="1"/>
<rect x="412.4" y="18.5" width="8.2" height="8.4" fill="#111"/>
<circle cx="416.4" cy="42.4" r="4.4" fill="#111"/>
<path d="M416.2 59.8L421.2 69.6H411.2Z" fill="#111"/>
<text x="428" y="29.5" font-size="21" textLength="58.4" lengthAdjust="spacingAndGlyphs">Pellets</text>
<text x="428" y="51.2" font-size="21" textLength="73.2" lengthAdjust="spacingAndGlyphs">Capsule</text>
<text x="429.4" y="72.6" font-size="21" textLength="53" lengthAdjust="spacingAndGlyphs">Tablet</text>
<path d="M368.5 116.4H388.2" stroke="#FFD91A" stroke-width="1.3" stroke-dasharray="1.2 1.2" fill="none"/>
<circle cx="377.9" cy="116.4" r="2.9" fill="url(#hFFD91A)" stroke="#FFD91A" stroke-width="0.9"/>
<text transform="translate(399.5 120.65) scale(1.032 1)" font-size="19.5">pancreatin A 10K</text>
<path d="M368.5 144.9H388.2" stroke="#FFC000" stroke-width="1.3" fill="none"/>
<path d="M377.9 141.1L380.9 147.5L374.9 147.5Z" fill="#FFC000"/>
<text transform="translate(399.5 149.18) scale(1.032 1)" font-size="19.5">pancreatin A 20K</text>
<path d="M368.5 173.4H388.2" stroke="#FFD43B" stroke-width="1.3" stroke-dasharray="2 1.5" fill="none"/>
<circle cx="377.9" cy="173.4" r="2.9" fill="#fff" stroke="#FFD43B" stroke-width="1"/>
<text transform="translate(399.5 177.71) scale(1.032 1)" font-size="19.5">pancreatin A 25K</text>
<path d="M368.5 201.9H388.2" stroke="#FFE27A" stroke-width="1.3" fill="none"/>
<circle cx="377.9" cy="201.9" r="2.9" fill="#FFC61A"/>
<text transform="translate(399.5 206.24) scale(1.032 1)" font-size="19.5">pancreatin A 40K</text>
<path d="M368.5 230.5H388.2" stroke="#12C4F2" stroke-width="1.3" stroke-dasharray="2.5 1.5" fill="none"/>
<circle cx="377.9" cy="230.5" r="2.9" fill="url(#h12C4F2)" stroke="#12C4F2" stroke-width="0.9"/>
<text transform="translate(399.5 234.77) scale(1.032 1)" font-size="19.5">pancreatin B 10K</text>
<path d="M368.5 259.0H388.2" stroke="#00B0F0" stroke-width="1.3" fill="none"/>
<rect x="374.6" y="255.7" width="6.5" height="6.5" fill="#00B0F0"/>
<text transform="translate(399.5 263.30) scale(1.032 1)" font-size="19.5">pancreatin B 20K</text>
<path d="M368.5 287.5H388.2" stroke="#2ECBF0" stroke-width="1.3" stroke-dasharray="3 2" fill="none"/>
<circle cx="377.9" cy="287.5" r="2.9" fill="#fff" stroke="#2ECBF0" stroke-width="1"/>
<text transform="translate(399.5 291.83) scale(1.032 1)" font-size="19.5">pancreatin B 25K</text>
<path d="M368.5 316.1H388.2" stroke="#12B4F0" stroke-width="1.3" fill="none"/>
<circle cx="377.9" cy="316.1" r="2.9" fill="#12B4F0"/>
<text transform="translate(399.5 320.36) scale(1.032 1)" font-size="19.5">pancreatin B 40K</text>
<path d="M368.5 344.6H388.2" stroke="#FF5A66" stroke-width="1.3" stroke-dasharray="4 2" fill="none"/>
<circle cx="377.9" cy="344.6" r="2.9" fill="#fff" stroke="#FF5A66" stroke-width="1"/>
<text transform="translate(399.5 348.89) scale(1.032 1)" font-size="19.5">pancreatin C 20K</text>
<path d="M368.5 373.1H388.2" stroke="#1888D8" stroke-width="1.3" stroke-dasharray="1.2 1.2" fill="none"/>
<circle cx="377.9" cy="373.1" r="2.9" fill="url(#h1888D8)" stroke="#1888D8" stroke-width="0.9"/>
<text transform="translate(399.5 377.42) scale(1.032 1)" font-size="19.5">pancreatin D 10K</text>
<path d="M368.5 401.7H388.2" stroke="#1E9EE0" stroke-width="1.3" stroke-dasharray="3 2" fill="none"/>
<circle cx="377.9" cy="401.7" r="2.9" fill="#fff" stroke="#1E9EE0" stroke-width="1"/>
<text transform="translate(399.5 405.95) scale(1.032 1)" font-size="19.5">pancreatin D 25K</text>
<path d="M368.5 430.2H388.2" stroke="#A6A6A6" stroke-width="1.3" fill="none"/>
<circle cx="377.9" cy="430.2" r="2.9" fill="#A6A6A6"/>
<text transform="translate(399.5 434.48) scale(1.032 1)" font-size="19.5">pancreatin E 40K</text>
<path d="M368.5 458.7H388.2" stroke="#F5AE72" stroke-width="1.3" stroke-dasharray="3 2" fill="none"/>
<circle cx="377.9" cy="458.7" r="2.9" fill="#fff" stroke="#F5AE72" stroke-width="1"/>
<text transform="translate(399.5 463.01) scale(1.032 1)" font-size="19.5">pancreatin F 20K</text>
<path d="M368.5 487.2H388.2" stroke="#C583E6" stroke-width="1.3" stroke-dasharray="3 2" fill="none"/>
<circle cx="377.9" cy="487.2" r="2.9" fill="#fff" stroke="#C583E6" stroke-width="1"/>
<text transform="translate(399.5 491.54) scale(1.032 1)" font-size="19.5">pancreatin G 20K</text>
<path d="M368.5 515.8H388.2" stroke="#A858D2" stroke-width="1.3" stroke-dasharray="1.2 1.2" fill="none"/>
<circle cx="377.9" cy="515.8" r="2.9" fill="url(#hA858D2)" stroke="#A858D2" stroke-width="0.9"/>
<text transform="translate(399.5 520.07) scale(1.032 1)" font-size="19.5">pancreatin G 30K</text>
<path d="M368.5 544.3H388.2" stroke="#7A2FB0" stroke-width="1.3" fill="none"/>
<circle cx="377.9" cy="544.3" r="2.9" fill="#7A2FB0"/>
<text transform="translate(399.5 548.60) scale(1.032 1)" font-size="19.5">pancreatin G 40K</text>
<path d="M368.5 572.8H388.2" stroke="#FF3030" stroke-width="1.3" stroke-dasharray="3 2" fill="none"/>
<circle cx="377.9" cy="572.8" r="2.9" fill="#fff" stroke="#FF3030" stroke-width="1"/>
<text transform="translate(399.5 577.13) scale(1.032 1)" font-size="19.5">pancreatin H 20K</text>
<path d="M368.5 601.4H388.2" stroke="#F00000" stroke-width="1.3" fill="none"/>
<circle cx="377.9" cy="601.4" r="2.9" fill="#F00000"/>
<text transform="translate(399.5 605.66) scale(1.032 1)" font-size="19.5">pancreatin H 40K</text>
<path d="M368.5 629.9H388.2" stroke="#92D050" stroke-width="1.3" stroke-dasharray="1.2 1.2" fill="none"/>
<circle cx="377.9" cy="629.9" r="2.9" fill="url(#h92D050)" stroke="#92D050" stroke-width="0.9"/>
<text transform="translate(399.5 634.19) scale(1.032 1)" font-size="19.5">pancreatin I 10K</text>
<path d="M368.5 658.4H388.2" stroke="#92D050" stroke-width="1.3" stroke-dasharray="3 2" fill="none"/>
<circle cx="377.9" cy="658.4" r="2.9" fill="#fff" stroke="#92D050" stroke-width="1"/>
<text transform="translate(399.5 662.72) scale(1.032 1)" font-size="19.5">pancreatin I 20K</text>
<path d="M368.5 687.0H388.2" stroke="#38963A" stroke-width="1.3" fill="none"/>
<path d="M377.9 683.1L380.9 689.6L374.9 689.6Z" fill="#38963A"/>
<text transform="translate(399.5 691.25) scale(1.032 1)" font-size="19.5">pancreatin J 10K</text>
<path d="M368.5 715.5H388.2" stroke="#3A3A3A" stroke-width="1.3" fill="none"/>
<rect x="374.6" y="712.2" width="6.5" height="6.5" fill="#3A3A3A"/>
<text transform="translate(399.5 719.78) scale(1.032 1)" font-size="19.5">pancreatin K 5K</text>
<path d="M368.5 744.0H388.2" stroke="#555555" stroke-width="1.3" stroke-dasharray="1.2 1.2" fill="none"/>
<circle cx="377.9" cy="744.0" r="2.9" fill="url(#h555555)" stroke="#555555" stroke-width="0.9"/>
<text transform="translate(399.5 748.31) scale(1.032 1)" font-size="19.5">pancreatin K 10K</text>
<path d="M368.5 772.5H388.2" stroke="#555555" stroke-width="1.3" stroke-dasharray="4 2" fill="none"/>
<circle cx="377.9" cy="772.5" r="2.9" fill="#fff" stroke="#555555" stroke-width="1"/>
<text transform="translate(399.5 776.84) scale(1.032 1)" font-size="19.5">pancreatin K 20K</text>
<path d="M368.5 801.1H388.2" stroke="#777777" stroke-width="1.3" stroke-dasharray="1.2 1.2" fill="none"/>
<circle cx="377.9" cy="801.1" r="2.9" fill="url(#h777777)" stroke="#777777" stroke-width="0.9"/>
<text transform="translate(399.5 805.37) scale(1.032 1)" font-size="19.5">pancreatin K 25K</text>
<path d="M368.5 829.6H388.2" stroke="#1A1A1A" stroke-width="1.3" fill="none"/>
<circle cx="377.9" cy="829.6" r="2.9" fill="#1A1A1A"/>
<text transform="translate(399.5 833.90) scale(1.032 1)" font-size="19.5">pancreatin K 35K</text>
</svg></body></html>
